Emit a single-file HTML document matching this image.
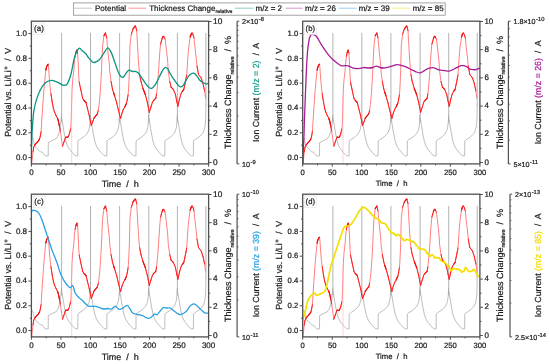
<!DOCTYPE html>
<html><head><meta charset="utf-8"><style>
html,body{margin:0;padding:0;background:#fff;}
svg{display:block;will-change:transform;}
text{font-family:"Liberation Sans", sans-serif;fill:#1c1c1c;white-space:pre;text-rendering:geometricPrecision;stroke:#1c1c1c;stroke-width:0.22px;}
.tk{font-size:8px;}
.rt{font-size:8.3px;}
.pb .tk,.pd .tk{font-size:7.7px;}
.pb .rt,.pd .rt{font-size:8.0px;}
.pb .tm,.pd .tm{font-size:7.7px;}
.itk{font-size:7.2px;}
.ttl{font-size:9px;}
.lg{font-size:8px;}
</style></head><body>
<svg width="550" height="364" viewBox="0 0 550 364" xmlns="http://www.w3.org/2000/svg">
<defs><clipPath id="clp"><rect x="31.4" y="21.2" width="177.2" height="142.70000000000002"/></clipPath></defs>
<g transform="translate(0,0)" class="pa">
<g clip-path="url(#clp)" fill="none" stroke-linejoin="round" stroke-linecap="round">
<path d="M32.6,137.5 L33.4,140.5 L34.1,143.6 L35.3,146.9 L37.4,148.5 L39.1,150.6 L40.3,151.8 L42.3,152.2 L43.6,153.9 L45.2,155.9 L48.2,156 L48.3,142.5 L50.4,141.6 L53.2,140 L55.7,139 L57.8,136.3 L59.3,132 L60.5,127 L61.3,118 L61.6,115 M61.6,118 L62.6,123 L64.2,133 L65.8,141 L67.4,145.8 L69.4,149.2 L72.4,152.8 L74.9,155.5 L76.1,155.9 L77.8,155.9 L77.9,141 L79.1,139.8 L80.5,139 L83.8,136.8 L87.1,133.5 L88.6,130.5 L89.5,127 L90.1,122 L90.35,116 L90.5,115 M90.5,118 L91.51,123 L93.12,133 L94.73,141 L96.34,145.8 L98.35,149.2 L101.37,152.8 L103.89,155.5 L105.1,155.9 L106.81,155.9 L106.91,141 L108.12,139.8 L109.53,139 L112.85,136.8 L116.18,133.5 L117.69,130.5 L118.59,127 L119.2,122 L119.45,116 L119.6,115 M119.6,118 L120.61,123 L122.23,133 L123.84,141 L125.46,145.8 L127.48,149.2 L130.51,152.8 L133.04,155.5 L134.25,155.9 L135.97,155.9 L136.07,141 L137.28,139.8 L138.7,139 L142.03,136.8 L145.36,133.5 L146.88,130.5 L147.79,127 L148.4,122 L148.65,116 L148.8,115 M148.8,118 L149.79,123 L151.37,133 L152.96,141 L154.54,145.8 L156.52,149.2 L159.49,152.8 L161.96,155.5 L163.15,155.9 L164.83,155.9 L164.93,141 L166.12,139.8 L167.5,139 L170.77,136.8 L174.04,133.5 L175.52,130.5 L176.41,127 L177,122 L177.25,116 L177.4,115 M177.4,118 L178.39,123 L179.96,133 L181.54,141 L183.12,145.8 L185.09,149.2 L188.05,152.8 L190.52,155.5 L191.7,155.9 L193.38,155.9 L193.47,141 L194.66,139.8 L196.04,139 L199.29,136.8 L202.55,133.5 L204.03,130.5 L204.91,127 L205.51,122 L205.75,116 L205.9,105" stroke="#a8a8a8" stroke-width="0.75"/>
<line x1="61.6" x2="61.6" y1="33.3" y2="122" stroke="#a0a0a0" stroke-width="0.8"/>
<line x1="90.5" x2="90.5" y1="33.3" y2="122" stroke="#a0a0a0" stroke-width="0.8"/>
<line x1="119.6" x2="119.6" y1="33.3" y2="122" stroke="#a0a0a0" stroke-width="0.8"/>
<line x1="148.8" x2="148.8" y1="33.3" y2="122" stroke="#a0a0a0" stroke-width="0.8"/>
<line x1="177.4" x2="177.4" y1="33.3" y2="122" stroke="#a0a0a0" stroke-width="0.8"/>
<line x1="205.9" x2="205.9" y1="33.3" y2="105" stroke="#a0a0a0" stroke-width="0.8"/>
<path d="M31.6,163.5 L32.1,160 L33,152 L33.7,147.3 L34.9,144.8 L36.6,142.8 L38.2,141.1 L39.5,139.1 L40.3,136.2 L41.1,131.6 L41.8,120 L42.6,108 L43.5,95 L44.3,85 L45.1,77 L45.8,70 L46.6,66.8 L47.5,65 L48.2,64.2 L48.7,68 L49.3,78 L50.1,87 L50.9,93.5 L52.2,102 L53.4,108.4 L54.5,112 L56,115.5 L57.5,118.3 L58.5,121.5 L59.4,126 L60.4,131 L61.2,137 L62.5,146.3 L63.9,142.2 L65.3,138.2 L65.9,137.2 L67.6,137.5 L68.5,136.2 L69.5,133.5 L70.5,129 L71,125 L71.5,108 L72,90.4 L72.7,80 L73.8,70.7 L74.4,62 L75.1,56.5 L76,52.2 L76.9,50.2 L77.6,53 L78.2,62 L78.7,75 L79.2,82 L80.7,89.3 L82.7,98.5 L84,100.5 L86,102.5 L87.3,107.8 L89.3,115.7 L90.5,122 L91.3,125.4 L93,121 L94,118.1 L95.7,116 L97.4,113.8 L98.3,110.4 L99.1,104.6 L99.8,97.9 L100.5,88 L101.1,78 L101.6,68 L102.1,56 L102.7,45.2 L104,35.5 L105.5,33.1 L106.7,37.9 L107.9,51.2 L109.4,65 L109.8,72 L110.5,77 L111,81.4 L112.4,88.6 L113.5,92.5 L114.6,95.7 L116.7,102.9 L118.4,110 L119.6,115 L120.6,118.4 L122,113.1 L123.5,109.2 L124.9,106.8 L126.4,103.5 L127.3,99.6 L128.1,94.8 L128.5,90 L129,80 L129.4,70 L129.7,57 L130,45.2 L131.3,34.3 L133.1,28.9 L135.1,26.2 L135.6,26.3 L136.7,30.7 L137.5,45.2 L138.5,62 L139.2,70 L139.6,74.5 L140.9,81.3 L143.1,88.8 L145.4,94.7 L147.3,102.2 L148.3,107 L149.3,112.3 L151,106.9 L152.5,102.1 L153.4,100.7 L155.8,98.3 L156.5,94 L157.2,88 L157.9,80 L158.5,72 L159,64 L159.8,52 L160.6,44 L161.3,41.5 L162.3,38 L163.2,36.4 L163.8,36.6 L165,39 L166,46 L166.9,54 L167.6,60 L168.3,71.4 L169.7,81.4 L171.1,87.1 L173.3,89.3 L175.4,94.3 L176.8,101.4 L177.9,106.2 L179.5,99 L181,93.8 L182.4,91.3 L183.8,89.4 L184.8,84.6 L185.8,79.8 L186.7,75 L187.3,66 L187.8,58 L188.7,47.6 L190.2,37 L191.2,34 L192,33 L193,34.5 L194,38 L195,47.6 L196.2,58 L197,66 L198.5,74.5 L201.2,78 L203,83.5 L204.6,91 L205.6,98" stroke="#ff6060" stroke-width="0.8"/>
<line x1="71.7" x2="71.7" y1="95.0" y2="163.5" stroke="#ffb0b0" stroke-width="0.55" stroke-dasharray="1.2 0.6"/>
<path d="M33,152 L33.7,147.3 M33.7,147.3 L34.9,144.8 M34.9,144.8 L36.6,142.8 M36.6,142.8 L38.2,141.1 M38.2,141.1 L39.5,139.1 M39.5,139.1 L40.3,136.2 M40.3,136.2 L41.1,131.6 M45.8,70 L46.6,66.8 M46.6,66.8 L47.5,65 M47.5,65 L48.2,64.2 M50.9,93.5 L52.2,102 M52.2,102 L53.4,108.4 M53.4,108.4 L54.5,112 M54.5,112 L56,115.5 M56,115.5 L57.5,118.3 M57.5,118.3 L58.5,121.5 M58.5,121.5 L59.4,126 M59.4,126 L60.4,131 M62.5,146.3 L63.9,142.2 M63.9,142.2 L65.3,138.2 M65.3,138.2 L65.9,137.2 M65.9,137.2 L67.6,137.5 M67.6,137.5 L68.5,136.2 M68.5,136.2 L69.5,133.5 M69.5,133.5 L70.5,129 M75.1,56.5 L76,52.2 M76,52.2 L76.9,50.2 M76.9,50.2 L77.6,53 M79.2,82 L80.7,89.3 M80.7,89.3 L82.7,98.5 M82.7,98.5 L84,100.5 M84,100.5 L86,102.5 M86,102.5 L87.3,107.8 M87.3,107.8 L89.3,115.7 M89.3,115.7 L90.5,122 M90.5,122 L91.3,125.4 M91.3,125.4 L93,121 M93,121 L94,118.1 M94,118.1 L95.7,116 M95.7,116 L97.4,113.8 M97.4,113.8 L98.3,110.4 M104,35.5 L105.5,33.1 M105.5,33.1 L106.7,37.9 M111,81.4 L112.4,88.6 M112.4,88.6 L113.5,92.5 M113.5,92.5 L114.6,95.7 M114.6,95.7 L116.7,102.9 M116.7,102.9 L118.4,110 M118.4,110 L119.6,115 M119.6,115 L120.6,118.4 M120.6,118.4 L122,113.1 M122,113.1 L123.5,109.2 M123.5,109.2 L124.9,106.8 M124.9,106.8 L126.4,103.5 M126.4,103.5 L127.3,99.6 M127.3,99.6 L128.1,94.8 M131.3,34.3 L133.1,28.9 M133.1,28.9 L135.1,26.2 M135.1,26.2 L135.6,26.3 M135.6,26.3 L136.7,30.7 M139.6,74.5 L140.9,81.3 M140.9,81.3 L143.1,88.8 M143.1,88.8 L145.4,94.7 M145.4,94.7 L147.3,102.2 M147.3,102.2 L148.3,107 M148.3,107 L149.3,112.3 M149.3,112.3 L151,106.9 M151,106.9 L152.5,102.1 M152.5,102.1 L153.4,100.7 M153.4,100.7 L155.8,98.3 M155.8,98.3 L156.5,94 M160.6,44 L161.3,41.5 M161.3,41.5 L162.3,38 M162.3,38 L163.2,36.4 M163.2,36.4 L163.8,36.6 M163.8,36.6 L165,39 M169.7,81.4 L171.1,87.1 M171.1,87.1 L173.3,89.3 M173.3,89.3 L175.4,94.3 M175.4,94.3 L176.8,101.4 M176.8,101.4 L177.9,106.2 M177.9,106.2 L179.5,99 M179.5,99 L181,93.8 M181,93.8 L182.4,91.3 M182.4,91.3 L183.8,89.4 M183.8,89.4 L184.8,84.6 M184.8,84.6 L185.8,79.8 M185.8,79.8 L186.7,75 M190.2,37 L191.2,34 M191.2,34 L192,33 M192,33 L193,34.5 M193,34.5 L194,38 M197,66 L198.5,74.5 M198.5,74.5 L201.2,78 M201.2,78 L203,83.5 M203,83.5 L204.6,91" stroke="#ff1c1c" stroke-width="0.95"/>
<path d="M34.9,144.8 L36.6,142.8 L38.2,141.1 L39.5,139.1" stroke="#f01010" stroke-width="1.2"/>
<path d="M45.8,70 L46.6,66.8 L47.5,65 L48.2,64.2" stroke="#f01010" stroke-width="1.2"/>
<path d="M76,52.2 L76.9,50.2" stroke="#f01010" stroke-width="1.2"/>
<path d="M104,35.5 L105.5,33.1" stroke="#f01010" stroke-width="1.2"/>
<path d="M133.1,28.9 L135.1,26.2 L135.6,26.3" stroke="#f01010" stroke-width="1.2"/>
<path d="M162.3,38 L163.2,36.4 L163.8,36.6" stroke="#f01010" stroke-width="1.2"/>
<path d="M190.2,37 L191.2,34 L192,33" stroke="#f01010" stroke-width="1.2"/>
<path d="M57.5,118.3 L58.5,121.5 L59.4,126" stroke="#f01010" stroke-width="1.2"/>
<path d="M65.9,137.2 L67.6,137.5 L68.5,136.2" stroke="#f01010" stroke-width="1.2"/>
<path d="M84,100.5 L86,102.5" stroke="#f01010" stroke-width="1.2"/>
<path d="M94,118.1 L95.7,116 L97.4,113.8" stroke="#f01010" stroke-width="1.2"/>
<path d="M113.5,92.5 L114.6,95.7" stroke="#f01010" stroke-width="1.2"/>
<path d="M124.9,106.8 L126.4,103.5" stroke="#f01010" stroke-width="1.2"/>
<path d="M143.1,88.8 L145.4,94.7" stroke="#f01010" stroke-width="1.2"/>
<path d="M153.4,100.7 L155.8,98.3" stroke="#f01010" stroke-width="1.2"/>
<path d="M171.1,87.1 L173.3,89.3" stroke="#f01010" stroke-width="1.2"/>
<path d="M182.4,91.3 L183.8,89.4" stroke="#f01010" stroke-width="1.2"/>
<path d="M31.3,152 C31.37,150.33 31.55,145.67 31.7,142 C31.85,138.33 31.87,135.03 32.2,130 C32.53,124.97 33.03,116.7 33.7,111.8 C34.37,106.9 35.17,104.12 36.2,100.6 C37.23,97.08 38.45,93.58 39.9,90.7 C41.35,87.82 43.05,85.03 44.9,83.3 C46.75,81.57 48.95,80.5 51,80.3 C53.05,80.1 55.13,81.27 57.2,82.1 C59.27,82.93 61.75,84.97 63.4,85.3 C65.05,85.63 65.87,85.87 67.1,84.1 C68.33,82.33 69.55,79.17 70.8,74.7 C72.05,70.23 73.27,61.68 74.6,57.3 C75.93,52.92 77.57,49.53 78.8,48.4 C80.03,47.27 80.83,49.62 82,50.5 C83.17,51.38 84.72,52.5 85.8,53.7 C86.88,54.9 87.47,56.4 88.5,57.7 C89.53,59 91.02,60.7 92,61.5 C92.98,62.3 93.18,62.78 94.4,62.5 C95.62,62.22 97.65,61.48 99.3,59.8 C100.95,58.12 102.85,54.38 104.3,52.4 C105.75,50.42 106.77,47.7 108,47.9 C109.23,48.1 110.62,51.33 111.7,53.6 C112.78,55.87 113.68,59.18 114.5,61.5 C115.32,63.82 116.02,65.83 116.6,67.5 C117.18,69.17 117.45,70.18 118,71.5 C118.55,72.82 119.33,74.48 119.9,75.4 C120.47,76.32 120.92,76.68 121.4,77 C121.88,77.32 122.32,77.47 122.8,77.3 C123.28,77.13 123.82,76.57 124.3,76 C124.78,75.43 125.18,74.65 125.7,73.9 C126.22,73.15 126.83,72.13 127.4,71.5 C127.97,70.87 128.58,70.25 129.1,70.1 C129.62,69.95 130.03,70.4 130.5,70.6 C130.97,70.8 131.38,71.15 131.9,71.3 C132.42,71.45 133.03,71.5 133.6,71.5 C134.17,71.5 134.77,71.22 135.3,71.3 C135.83,71.38 136.32,71.72 136.8,72 C137.28,72.28 137.48,72.2 138.2,73 C138.92,73.8 140.13,75.43 141.1,76.8 C142.07,78.17 143.05,79.8 144,81.2 C144.95,82.6 146,84.18 146.8,85.2 C147.6,86.22 148.15,86.77 148.8,87.3 C149.45,87.83 150.13,88.27 150.7,88.4 C151.27,88.53 151.72,88.35 152.2,88.1 C152.68,87.85 152.88,87.82 153.6,86.9 C154.32,85.98 155.55,84.28 156.5,82.6 C157.45,80.92 158.35,78.72 159.3,76.8 C160.25,74.88 161.47,72.4 162.2,71.1 C162.93,69.8 163.22,69.6 163.7,69 C164.18,68.4 164.63,67.72 165.1,67.5 C165.57,67.28 166.02,67.43 166.5,67.7 C166.98,67.97 167.48,68.3 168,69.1 C168.52,69.9 168.93,71.27 169.6,72.5 C170.27,73.73 171.2,75.22 172,76.5 C172.8,77.78 173.52,78.95 174.4,80.2 C175.28,81.45 176.33,82.88 177.3,84 C178.27,85.12 179.23,86.65 180.2,86.9 C181.17,87.15 182.22,86.42 183.1,85.5 C183.98,84.58 184.55,83 185.5,81.4 C186.45,79.8 187.8,77.18 188.8,75.9 C189.8,74.62 190.68,74.15 191.5,73.7 C192.32,73.25 192.87,72.92 193.7,73.2 C194.53,73.48 195.48,74.22 196.5,75.4 C197.52,76.58 198.7,79.12 199.8,80.3 C200.9,81.48 202.2,81.95 203.1,82.5 C204,83.05 204.53,83.35 205.2,83.6 C205.87,83.85 206.52,84.17 207.1,84 C207.68,83.83 208.43,82.83 208.7,82.6" stroke="#0a9580" stroke-width="1.3"/>
</g>
<rect x="31.4" y="21.2" width="177.2" height="142.7" fill="none" stroke="#505050" stroke-width="1.3"/>
<line x1="28.4" x2="31.4" y1="157.6" y2="157.6" stroke="#505050" stroke-width="1"/>
<text x="27" y="159.75" text-anchor="end" class="tk">0.0</text>
<line x1="29.8" x2="31.4" y1="145.2" y2="145.2" stroke="#505050" stroke-width="1"/>
<line x1="28.4" x2="31.4" y1="132.8" y2="132.8" stroke="#505050" stroke-width="1"/>
<text x="27" y="134.95" text-anchor="end" class="tk">0.2</text>
<line x1="29.8" x2="31.4" y1="120.4" y2="120.4" stroke="#505050" stroke-width="1"/>
<line x1="28.4" x2="31.4" y1="108" y2="108" stroke="#505050" stroke-width="1"/>
<text x="27" y="110.15" text-anchor="end" class="tk">0.4</text>
<line x1="29.8" x2="31.4" y1="95.6" y2="95.6" stroke="#505050" stroke-width="1"/>
<line x1="28.4" x2="31.4" y1="83.2" y2="83.2" stroke="#505050" stroke-width="1"/>
<text x="27" y="85.35" text-anchor="end" class="tk">0.6</text>
<line x1="29.8" x2="31.4" y1="70.8" y2="70.8" stroke="#505050" stroke-width="1"/>
<line x1="28.4" x2="31.4" y1="58.4" y2="58.4" stroke="#505050" stroke-width="1"/>
<text x="27" y="60.55" text-anchor="end" class="tk">0.8</text>
<line x1="29.8" x2="31.4" y1="46" y2="46" stroke="#505050" stroke-width="1"/>
<line x1="28.4" x2="31.4" y1="33.6" y2="33.6" stroke="#505050" stroke-width="1"/>
<text x="27" y="35.75" text-anchor="end" class="tk">1.0</text>
<line x1="31.4" x2="31.4" y1="163.9" y2="166.7" stroke="#505050" stroke-width="1"/>
<text x="31.4" y="175.0" text-anchor="middle" class="tk">0</text>
<line x1="46.17" x2="46.17" y1="163.9" y2="165.4" stroke="#505050" stroke-width="1"/>
<line x1="60.93" x2="60.93" y1="163.9" y2="166.7" stroke="#505050" stroke-width="1"/>
<text x="60.93" y="175.0" text-anchor="middle" class="tk">50</text>
<line x1="75.7" x2="75.7" y1="163.9" y2="165.4" stroke="#505050" stroke-width="1"/>
<line x1="90.47" x2="90.47" y1="163.9" y2="166.7" stroke="#505050" stroke-width="1"/>
<text x="90.47" y="175.0" text-anchor="middle" class="tk">100</text>
<line x1="105.23" x2="105.23" y1="163.9" y2="165.4" stroke="#505050" stroke-width="1"/>
<line x1="120" x2="120" y1="163.9" y2="166.7" stroke="#505050" stroke-width="1"/>
<text x="120" y="175.0" text-anchor="middle" class="tk">150</text>
<line x1="134.77" x2="134.77" y1="163.9" y2="165.4" stroke="#505050" stroke-width="1"/>
<line x1="149.53" x2="149.53" y1="163.9" y2="166.7" stroke="#505050" stroke-width="1"/>
<text x="149.53" y="175.0" text-anchor="middle" class="tk">200</text>
<line x1="164.3" x2="164.3" y1="163.9" y2="165.4" stroke="#505050" stroke-width="1"/>
<line x1="179.07" x2="179.07" y1="163.9" y2="166.7" stroke="#505050" stroke-width="1"/>
<text x="179.07" y="175.0" text-anchor="middle" class="tk">250</text>
<line x1="193.83" x2="193.83" y1="163.9" y2="165.4" stroke="#505050" stroke-width="1"/>
<line x1="208.6" x2="208.6" y1="163.9" y2="166.7" stroke="#505050" stroke-width="1"/>
<text x="208.6" y="175.0" text-anchor="middle" class="tk">300</text>
<line x1="208.6" x2="211.6" y1="162.5" y2="162.5" stroke="#505050" stroke-width="1"/>
<text x="213.1" y="164.5" class="tk rt">0</text>
<line x1="208.6" x2="210.2" y1="148.4" y2="148.4" stroke="#505050" stroke-width="1"/>
<line x1="208.6" x2="211.6" y1="134.3" y2="134.3" stroke="#505050" stroke-width="1"/>
<text x="213.1" y="136.3" class="tk rt">2</text>
<line x1="208.6" x2="210.2" y1="120.2" y2="120.2" stroke="#505050" stroke-width="1"/>
<line x1="208.6" x2="211.6" y1="106.1" y2="106.1" stroke="#505050" stroke-width="1"/>
<text x="213.1" y="108.1" class="tk rt">4</text>
<line x1="208.6" x2="210.2" y1="92" y2="92" stroke="#505050" stroke-width="1"/>
<line x1="208.6" x2="211.6" y1="77.9" y2="77.9" stroke="#505050" stroke-width="1"/>
<text x="213.1" y="79.9" class="tk rt">6</text>
<line x1="208.6" x2="210.2" y1="63.8" y2="63.8" stroke="#505050" stroke-width="1"/>
<line x1="208.6" x2="211.6" y1="49.7" y2="49.7" stroke="#505050" stroke-width="1"/>
<text x="213.1" y="51.7" class="tk rt">8</text>
<line x1="208.6" x2="210.2" y1="35.6" y2="35.6" stroke="#505050" stroke-width="1"/>
<line x1="208.6" x2="211.6" y1="21.5" y2="21.5" stroke="#505050" stroke-width="1"/>
<text x="213.1" y="23.5" class="tk rt">10</text>
<line x1="237.1" x2="237.1" y1="21.2" y2="163.9" stroke="#505050" stroke-width="1.2"/>
<line x1="237.1" x2="239.29999999999998" y1="21.2" y2="21.2" stroke="#505050" stroke-width="1"/>
<line x1="237.1" x2="239.29999999999998" y1="163.9" y2="163.9" stroke="#505050" stroke-width="1"/>
<line x1="237.1" x2="238.5" y1="116.11" y2="116.11" stroke="#505050" stroke-width="0.9"/>
<line x1="237.1" x2="238.5" y1="92.74" y2="92.74" stroke="#505050" stroke-width="0.9"/>
<line x1="237.1" x2="238.5" y1="77.13" y2="77.13" stroke="#505050" stroke-width="0.9"/>
<line x1="237.1" x2="238.5" y1="65.39" y2="65.39" stroke="#505050" stroke-width="0.9"/>
<line x1="237.1" x2="238.5" y1="55.98" y2="55.98" stroke="#505050" stroke-width="0.9"/>
<line x1="237.1" x2="238.5" y1="48.13" y2="48.13" stroke="#505050" stroke-width="0.9"/>
<line x1="237.1" x2="238.5" y1="41.39" y2="41.39" stroke="#505050" stroke-width="0.9"/>
<line x1="237.1" x2="238.5" y1="35.48" y2="35.48" stroke="#505050" stroke-width="0.9"/>
<line x1="237.1" x2="238.5" y1="30.23" y2="30.23" stroke="#505050" stroke-width="0.9"/>
<line x1="237.1" x2="238.5" y1="25.5" y2="25.5" stroke="#505050" stroke-width="0.9"/>
<text x="242.1" y="23.9" class="itk">2×10<tspan dx="0.5" dy="-2.7" font-size="5.8">-8</tspan></text>
<text x="242.1" y="166.8" class="itk">10<tspan dx="0.5" dy="-2.7" font-size="5.8">-9</tspan></text>
<text transform="translate(10.9,92.3) rotate(-90)" text-anchor="middle" class="ttl" style="font-size:8.8px">Potential vs. Li/Li<tspan dx="0.5" dy="-3.3" font-size="6.2">+</tspan><tspan dx="0.3" dy="3.3">  /  V</tspan></text>
<text transform="translate(231.4,92.5) rotate(-90)" text-anchor="middle" class="ttl">Thickness Change<tspan dy="2.2" font-size="5.6">relative</tspan><tspan dy="-2.2">  /  %</tspan></text>
<text transform="translate(259.4,92.4) rotate(-90)" text-anchor="middle" class="ttl" style="font-size:8.8px">Ion Current <tspan fill="#109a88" stroke="#109a88">(m/z = 2)</tspan>  /  A</text>
<text x="120.3" y="186.9" text-anchor="middle" class="ttl tm">Time  /  h</text>
<rect x="33.2" y="23" width="11.7" height="11.4" fill="#fff" stroke="#e4e4e4" stroke-width="0.6"/>
<text x="39" y="31.3" text-anchor="middle" class="tk">(a)</text>
</g><g transform="translate(271.3,0)" class="pb">
<g clip-path="url(#clp)" fill="none" stroke-linejoin="round" stroke-linecap="round">
<path d="M32.6,137.5 L33.4,140.5 L34.1,143.6 L35.3,146.9 L37.4,148.5 L39.1,150.6 L40.3,151.8 L42.3,152.2 L43.6,153.9 L45.2,155.9 L48.2,156 L48.3,142.5 L50.4,141.6 L53.2,140 L55.7,139 L57.8,136.3 L59.3,132 L60.5,127 L61.3,118 L61.6,115 M61.6,118 L62.6,123 L64.2,133 L65.8,141 L67.4,145.8 L69.4,149.2 L72.4,152.8 L74.9,155.5 L76.1,155.9 L77.8,155.9 L77.9,141 L79.1,139.8 L80.5,139 L83.8,136.8 L87.1,133.5 L88.6,130.5 L89.5,127 L90.1,122 L90.35,116 L90.5,115 M90.5,118 L91.51,123 L93.12,133 L94.73,141 L96.34,145.8 L98.35,149.2 L101.37,152.8 L103.89,155.5 L105.1,155.9 L106.81,155.9 L106.91,141 L108.12,139.8 L109.53,139 L112.85,136.8 L116.18,133.5 L117.69,130.5 L118.59,127 L119.2,122 L119.45,116 L119.6,115 M119.6,118 L120.61,123 L122.23,133 L123.84,141 L125.46,145.8 L127.48,149.2 L130.51,152.8 L133.04,155.5 L134.25,155.9 L135.97,155.9 L136.07,141 L137.28,139.8 L138.7,139 L142.03,136.8 L145.36,133.5 L146.88,130.5 L147.79,127 L148.4,122 L148.65,116 L148.8,115 M148.8,118 L149.79,123 L151.37,133 L152.96,141 L154.54,145.8 L156.52,149.2 L159.49,152.8 L161.96,155.5 L163.15,155.9 L164.83,155.9 L164.93,141 L166.12,139.8 L167.5,139 L170.77,136.8 L174.04,133.5 L175.52,130.5 L176.41,127 L177,122 L177.25,116 L177.4,115 M177.4,118 L178.39,123 L179.96,133 L181.54,141 L183.12,145.8 L185.09,149.2 L188.05,152.8 L190.52,155.5 L191.7,155.9 L193.38,155.9 L193.47,141 L194.66,139.8 L196.04,139 L199.29,136.8 L202.55,133.5 L204.03,130.5 L204.91,127 L205.51,122 L205.75,116 L205.9,105" stroke="#a8a8a8" stroke-width="0.75"/>
<line x1="61.6" x2="61.6" y1="33.3" y2="122" stroke="#a0a0a0" stroke-width="0.8"/>
<line x1="90.5" x2="90.5" y1="33.3" y2="122" stroke="#a0a0a0" stroke-width="0.8"/>
<line x1="119.6" x2="119.6" y1="33.3" y2="122" stroke="#a0a0a0" stroke-width="0.8"/>
<line x1="148.8" x2="148.8" y1="33.3" y2="122" stroke="#a0a0a0" stroke-width="0.8"/>
<line x1="177.4" x2="177.4" y1="33.3" y2="122" stroke="#a0a0a0" stroke-width="0.8"/>
<line x1="205.9" x2="205.9" y1="33.3" y2="105" stroke="#a0a0a0" stroke-width="0.8"/>
<path d="M31.6,163.5 L32.1,160 L33,152 L33.7,147.3 L34.9,144.8 L36.6,142.8 L38.2,141.1 L39.5,139.1 L40.3,136.2 L41.1,131.6 L41.8,120 L42.6,108 L43.5,95 L44.3,85 L45.1,77 L45.8,70 L46.6,66.8 L47.5,65 L48.2,64.2 L48.7,68 L49.3,78 L50.1,87 L50.9,93.5 L52.2,102 L53.4,108.4 L54.5,112 L56,115.5 L57.5,118.3 L58.5,121.5 L59.4,126 L60.4,131 L61.2,137 L62.5,146.3 L63.9,142.2 L65.3,138.2 L65.9,137.2 L67.6,137.5 L68.5,136.2 L69.5,133.5 L70.5,129 L71,125 L71.5,108 L72,90.4 L72.7,80 L73.8,70.7 L74.4,62 L75.1,56.5 L76,52.2 L76.9,50.2 L77.6,53 L78.2,62 L78.7,75 L79.2,82 L80.7,89.3 L82.7,98.5 L84,100.5 L86,102.5 L87.3,107.8 L89.3,115.7 L90.5,122 L91.3,125.4 L93,121 L94,118.1 L95.7,116 L97.4,113.8 L98.3,110.4 L99.1,104.6 L99.8,97.9 L100.5,88 L101.1,78 L101.6,68 L102.1,56 L102.7,45.2 L104,35.5 L105.5,33.1 L106.7,37.9 L107.9,51.2 L109.4,65 L109.8,72 L110.5,77 L111,81.4 L112.4,88.6 L113.5,92.5 L114.6,95.7 L116.7,102.9 L118.4,110 L119.6,115 L120.6,118.4 L122,113.1 L123.5,109.2 L124.9,106.8 L126.4,103.5 L127.3,99.6 L128.1,94.8 L128.5,90 L129,80 L129.4,70 L129.7,57 L130,45.2 L131.3,34.3 L133.1,28.9 L135.1,26.2 L135.6,26.3 L136.7,30.7 L137.5,45.2 L138.5,62 L139.2,70 L139.6,74.5 L140.9,81.3 L143.1,88.8 L145.4,94.7 L147.3,102.2 L148.3,107 L149.3,112.3 L151,106.9 L152.5,102.1 L153.4,100.7 L155.8,98.3 L156.5,94 L157.2,88 L157.9,80 L158.5,72 L159,64 L159.8,52 L160.6,44 L161.3,41.5 L162.3,38 L163.2,36.4 L163.8,36.6 L165,39 L166,46 L166.9,54 L167.6,60 L168.3,71.4 L169.7,81.4 L171.1,87.1 L173.3,89.3 L175.4,94.3 L176.8,101.4 L177.9,106.2 L179.5,99 L181,93.8 L182.4,91.3 L183.8,89.4 L184.8,84.6 L185.8,79.8 L186.7,75 L187.3,66 L187.8,58 L188.7,47.6 L190.2,37 L191.2,34 L192,33 L193,34.5 L194,38 L195,47.6 L196.2,58 L197,66 L198.5,74.5 L201.2,78 L203,83.5 L204.6,91 L205.6,98" stroke="#ff6060" stroke-width="0.8"/>
<line x1="71.7" x2="71.7" y1="95.0" y2="163.5" stroke="#ffb0b0" stroke-width="0.55" stroke-dasharray="1.2 0.6"/>
<path d="M33,152 L33.7,147.3 M33.7,147.3 L34.9,144.8 M34.9,144.8 L36.6,142.8 M36.6,142.8 L38.2,141.1 M38.2,141.1 L39.5,139.1 M39.5,139.1 L40.3,136.2 M40.3,136.2 L41.1,131.6 M45.8,70 L46.6,66.8 M46.6,66.8 L47.5,65 M47.5,65 L48.2,64.2 M50.9,93.5 L52.2,102 M52.2,102 L53.4,108.4 M53.4,108.4 L54.5,112 M54.5,112 L56,115.5 M56,115.5 L57.5,118.3 M57.5,118.3 L58.5,121.5 M58.5,121.5 L59.4,126 M59.4,126 L60.4,131 M62.5,146.3 L63.9,142.2 M63.9,142.2 L65.3,138.2 M65.3,138.2 L65.9,137.2 M65.9,137.2 L67.6,137.5 M67.6,137.5 L68.5,136.2 M68.5,136.2 L69.5,133.5 M69.5,133.5 L70.5,129 M75.1,56.5 L76,52.2 M76,52.2 L76.9,50.2 M76.9,50.2 L77.6,53 M79.2,82 L80.7,89.3 M80.7,89.3 L82.7,98.5 M82.7,98.5 L84,100.5 M84,100.5 L86,102.5 M86,102.5 L87.3,107.8 M87.3,107.8 L89.3,115.7 M89.3,115.7 L90.5,122 M90.5,122 L91.3,125.4 M91.3,125.4 L93,121 M93,121 L94,118.1 M94,118.1 L95.7,116 M95.7,116 L97.4,113.8 M97.4,113.8 L98.3,110.4 M104,35.5 L105.5,33.1 M105.5,33.1 L106.7,37.9 M111,81.4 L112.4,88.6 M112.4,88.6 L113.5,92.5 M113.5,92.5 L114.6,95.7 M114.6,95.7 L116.7,102.9 M116.7,102.9 L118.4,110 M118.4,110 L119.6,115 M119.6,115 L120.6,118.4 M120.6,118.4 L122,113.1 M122,113.1 L123.5,109.2 M123.5,109.2 L124.9,106.8 M124.9,106.8 L126.4,103.5 M126.4,103.5 L127.3,99.6 M127.3,99.6 L128.1,94.8 M131.3,34.3 L133.1,28.9 M133.1,28.9 L135.1,26.2 M135.1,26.2 L135.6,26.3 M135.6,26.3 L136.7,30.7 M139.6,74.5 L140.9,81.3 M140.9,81.3 L143.1,88.8 M143.1,88.8 L145.4,94.7 M145.4,94.7 L147.3,102.2 M147.3,102.2 L148.3,107 M148.3,107 L149.3,112.3 M149.3,112.3 L151,106.9 M151,106.9 L152.5,102.1 M152.5,102.1 L153.4,100.7 M153.4,100.7 L155.8,98.3 M155.8,98.3 L156.5,94 M160.6,44 L161.3,41.5 M161.3,41.5 L162.3,38 M162.3,38 L163.2,36.4 M163.2,36.4 L163.8,36.6 M163.8,36.6 L165,39 M169.7,81.4 L171.1,87.1 M171.1,87.1 L173.3,89.3 M173.3,89.3 L175.4,94.3 M175.4,94.3 L176.8,101.4 M176.8,101.4 L177.9,106.2 M177.9,106.2 L179.5,99 M179.5,99 L181,93.8 M181,93.8 L182.4,91.3 M182.4,91.3 L183.8,89.4 M183.8,89.4 L184.8,84.6 M184.8,84.6 L185.8,79.8 M185.8,79.8 L186.7,75 M190.2,37 L191.2,34 M191.2,34 L192,33 M192,33 L193,34.5 M193,34.5 L194,38 M197,66 L198.5,74.5 M198.5,74.5 L201.2,78 M201.2,78 L203,83.5 M203,83.5 L204.6,91" stroke="#ff1c1c" stroke-width="0.95"/>
<path d="M34.9,144.8 L36.6,142.8 L38.2,141.1 L39.5,139.1" stroke="#f01010" stroke-width="1.2"/>
<path d="M45.8,70 L46.6,66.8 L47.5,65 L48.2,64.2" stroke="#f01010" stroke-width="1.2"/>
<path d="M76,52.2 L76.9,50.2" stroke="#f01010" stroke-width="1.2"/>
<path d="M104,35.5 L105.5,33.1" stroke="#f01010" stroke-width="1.2"/>
<path d="M133.1,28.9 L135.1,26.2 L135.6,26.3" stroke="#f01010" stroke-width="1.2"/>
<path d="M162.3,38 L163.2,36.4 L163.8,36.6" stroke="#f01010" stroke-width="1.2"/>
<path d="M190.2,37 L191.2,34 L192,33" stroke="#f01010" stroke-width="1.2"/>
<path d="M57.5,118.3 L58.5,121.5 L59.4,126" stroke="#f01010" stroke-width="1.2"/>
<path d="M65.9,137.2 L67.6,137.5 L68.5,136.2" stroke="#f01010" stroke-width="1.2"/>
<path d="M84,100.5 L86,102.5" stroke="#f01010" stroke-width="1.2"/>
<path d="M94,118.1 L95.7,116 L97.4,113.8" stroke="#f01010" stroke-width="1.2"/>
<path d="M113.5,92.5 L114.6,95.7" stroke="#f01010" stroke-width="1.2"/>
<path d="M124.9,106.8 L126.4,103.5" stroke="#f01010" stroke-width="1.2"/>
<path d="M143.1,88.8 L145.4,94.7" stroke="#f01010" stroke-width="1.2"/>
<path d="M153.4,100.7 L155.8,98.3" stroke="#f01010" stroke-width="1.2"/>
<path d="M171.1,87.1 L173.3,89.3" stroke="#f01010" stroke-width="1.2"/>
<path d="M182.4,91.3 L183.8,89.4" stroke="#f01010" stroke-width="1.2"/>
<path d="M31.6,163.5 C31.67,161.25 31.82,154.75 32,150 C32.18,145.25 32.52,140 32.7,135 C32.88,130 32.9,125.83 33.1,120 C33.3,114.17 33.6,107.5 33.9,100 C34.2,92.5 34.53,82.83 34.9,75 C35.27,67.17 35.62,58.87 36.1,53 C36.58,47.13 37.27,42.72 37.8,39.8 C38.33,36.88 38.75,36.47 39.3,35.5 C39.85,34.53 40.12,33.83 41.1,34 C42.08,34.17 43.7,34.72 45.2,36.5 C46.7,38.28 48.45,42.1 50.1,44.7 C51.75,47.3 53.67,50.12 55.1,52.1 C56.53,54.08 57.62,55.37 58.7,56.6 C59.78,57.83 60.38,58.4 61.6,59.5 C62.82,60.6 64.55,62.15 66,63.2 C67.45,64.25 69.1,65.38 70.3,65.8 C71.5,66.22 72.1,65.7 73.2,65.7 C74.3,65.7 75.68,65.5 76.9,65.8 C78.12,66.1 79.17,67.02 80.5,67.5 C81.83,67.98 83.45,68.57 84.9,68.7 C86.35,68.83 87.87,68.5 89.2,68.3 C90.53,68.1 91.57,67.55 92.9,67.5 C94.23,67.45 95.75,68 97.2,68 C98.65,68 100.27,67.82 101.6,67.5 C102.93,67.18 103.98,66.1 105.2,66.1 C106.42,66.1 107.68,67.18 108.9,67.5 C110.12,67.82 111.17,68.07 112.5,68 C113.83,67.93 115.57,67.42 116.9,67.1 C118.23,66.78 119.05,66.52 120.5,66.1 C121.95,65.68 124.02,64.73 125.6,64.6 C127.18,64.47 128.48,64.92 130,65.3 C131.52,65.68 132.93,66.13 134.7,66.9 C136.47,67.67 138.93,69.08 140.6,69.9 C142.27,70.72 143.33,71.3 144.7,71.8 C146.07,72.3 147.63,72.95 148.8,72.9 C149.97,72.85 150.7,72.07 151.7,71.5 C152.7,70.93 153.72,70.05 154.8,69.5 C155.88,68.95 157.08,68.5 158.2,68.2 C159.32,67.9 160.42,67.63 161.5,67.7 C162.58,67.77 163.7,68.23 164.7,68.6 C165.7,68.97 166.03,69.55 167.5,69.9 C168.97,70.25 171.75,70.5 173.5,70.7 C175.25,70.9 176.75,71.23 178,71.1 C179.25,70.97 180.02,70.35 181,69.9 C181.98,69.45 182.92,68.92 183.9,68.4 C184.88,67.88 185.9,67.25 186.9,66.8 C187.9,66.35 189.02,65.9 189.9,65.7 C190.78,65.5 191.45,65.52 192.2,65.6 C192.95,65.68 193.65,65.85 194.4,66.2 C195.15,66.55 195.97,67.2 196.7,67.7 C197.43,68.2 197.97,68.87 198.8,69.2 C199.63,69.53 200.7,69.63 201.7,69.7 C202.7,69.77 203.63,69.87 204.8,69.6 C205.97,69.33 208.05,68.35 208.7,68.1" stroke="#a81c96" stroke-width="1.3"/>
</g>
<rect x="31.4" y="21.2" width="177.2" height="142.7" fill="none" stroke="#505050" stroke-width="1.3"/>
<line x1="28.4" x2="31.4" y1="157.6" y2="157.6" stroke="#505050" stroke-width="1"/>
<text x="27" y="159.75" text-anchor="end" class="tk">0.0</text>
<line x1="29.8" x2="31.4" y1="145.2" y2="145.2" stroke="#505050" stroke-width="1"/>
<line x1="28.4" x2="31.4" y1="132.8" y2="132.8" stroke="#505050" stroke-width="1"/>
<text x="27" y="134.95" text-anchor="end" class="tk">0.2</text>
<line x1="29.8" x2="31.4" y1="120.4" y2="120.4" stroke="#505050" stroke-width="1"/>
<line x1="28.4" x2="31.4" y1="108" y2="108" stroke="#505050" stroke-width="1"/>
<text x="27" y="110.15" text-anchor="end" class="tk">0.4</text>
<line x1="29.8" x2="31.4" y1="95.6" y2="95.6" stroke="#505050" stroke-width="1"/>
<line x1="28.4" x2="31.4" y1="83.2" y2="83.2" stroke="#505050" stroke-width="1"/>
<text x="27" y="85.35" text-anchor="end" class="tk">0.6</text>
<line x1="29.8" x2="31.4" y1="70.8" y2="70.8" stroke="#505050" stroke-width="1"/>
<line x1="28.4" x2="31.4" y1="58.4" y2="58.4" stroke="#505050" stroke-width="1"/>
<text x="27" y="60.55" text-anchor="end" class="tk">0.8</text>
<line x1="29.8" x2="31.4" y1="46" y2="46" stroke="#505050" stroke-width="1"/>
<line x1="28.4" x2="31.4" y1="33.6" y2="33.6" stroke="#505050" stroke-width="1"/>
<text x="27" y="35.75" text-anchor="end" class="tk">1.0</text>
<line x1="31.4" x2="31.4" y1="163.9" y2="166.7" stroke="#505050" stroke-width="1"/>
<text x="31.4" y="175.0" text-anchor="middle" class="tk">0</text>
<line x1="46.17" x2="46.17" y1="163.9" y2="165.4" stroke="#505050" stroke-width="1"/>
<line x1="60.93" x2="60.93" y1="163.9" y2="166.7" stroke="#505050" stroke-width="1"/>
<text x="60.93" y="175.0" text-anchor="middle" class="tk">50</text>
<line x1="75.7" x2="75.7" y1="163.9" y2="165.4" stroke="#505050" stroke-width="1"/>
<line x1="90.47" x2="90.47" y1="163.9" y2="166.7" stroke="#505050" stroke-width="1"/>
<text x="90.47" y="175.0" text-anchor="middle" class="tk">100</text>
<line x1="105.23" x2="105.23" y1="163.9" y2="165.4" stroke="#505050" stroke-width="1"/>
<line x1="120" x2="120" y1="163.9" y2="166.7" stroke="#505050" stroke-width="1"/>
<text x="120" y="175.0" text-anchor="middle" class="tk">150</text>
<line x1="134.77" x2="134.77" y1="163.9" y2="165.4" stroke="#505050" stroke-width="1"/>
<line x1="149.53" x2="149.53" y1="163.9" y2="166.7" stroke="#505050" stroke-width="1"/>
<text x="149.53" y="175.0" text-anchor="middle" class="tk">200</text>
<line x1="164.3" x2="164.3" y1="163.9" y2="165.4" stroke="#505050" stroke-width="1"/>
<line x1="179.07" x2="179.07" y1="163.9" y2="166.7" stroke="#505050" stroke-width="1"/>
<text x="179.07" y="175.0" text-anchor="middle" class="tk">250</text>
<line x1="193.83" x2="193.83" y1="163.9" y2="165.4" stroke="#505050" stroke-width="1"/>
<line x1="208.6" x2="208.6" y1="163.9" y2="166.7" stroke="#505050" stroke-width="1"/>
<text x="208.6" y="175.0" text-anchor="middle" class="tk">300</text>
<line x1="208.6" x2="211.6" y1="162.5" y2="162.5" stroke="#505050" stroke-width="1"/>
<text x="213.1" y="164.5" class="tk rt">0</text>
<line x1="208.6" x2="210.2" y1="148.4" y2="148.4" stroke="#505050" stroke-width="1"/>
<line x1="208.6" x2="211.6" y1="134.3" y2="134.3" stroke="#505050" stroke-width="1"/>
<text x="213.1" y="136.3" class="tk rt">2</text>
<line x1="208.6" x2="210.2" y1="120.2" y2="120.2" stroke="#505050" stroke-width="1"/>
<line x1="208.6" x2="211.6" y1="106.1" y2="106.1" stroke="#505050" stroke-width="1"/>
<text x="213.1" y="108.1" class="tk rt">4</text>
<line x1="208.6" x2="210.2" y1="92" y2="92" stroke="#505050" stroke-width="1"/>
<line x1="208.6" x2="211.6" y1="77.9" y2="77.9" stroke="#505050" stroke-width="1"/>
<text x="213.1" y="79.9" class="tk rt">6</text>
<line x1="208.6" x2="210.2" y1="63.8" y2="63.8" stroke="#505050" stroke-width="1"/>
<line x1="208.6" x2="211.6" y1="49.7" y2="49.7" stroke="#505050" stroke-width="1"/>
<text x="213.1" y="51.7" class="tk rt">8</text>
<line x1="208.6" x2="210.2" y1="35.6" y2="35.6" stroke="#505050" stroke-width="1"/>
<line x1="208.6" x2="211.6" y1="21.5" y2="21.5" stroke="#505050" stroke-width="1"/>
<text x="213.1" y="23.5" class="tk rt">10</text>
<line x1="237.1" x2="237.1" y1="21.2" y2="163.9" stroke="#505050" stroke-width="1.2"/>
<line x1="237.1" x2="239.29999999999998" y1="21.2" y2="21.2" stroke="#505050" stroke-width="1"/>
<line x1="237.1" x2="239.29999999999998" y1="163.9" y2="163.9" stroke="#505050" stroke-width="1"/>
<line x1="237.1" x2="238.5" y1="140.26" y2="140.26" stroke="#505050" stroke-width="0.9"/>
<line x1="237.1" x2="238.5" y1="120.77" y2="120.77" stroke="#505050" stroke-width="0.9"/>
<line x1="237.1" x2="238.5" y1="104.19" y2="104.19" stroke="#505050" stroke-width="0.9"/>
<line x1="237.1" x2="238.5" y1="89.76" y2="89.76" stroke="#505050" stroke-width="0.9"/>
<line x1="237.1" x2="238.5" y1="76.99" y2="76.99" stroke="#505050" stroke-width="0.9"/>
<line x1="237.1" x2="238.5" y1="65.53" y2="65.53" stroke="#505050" stroke-width="0.9"/>
<line x1="237.1" x2="238.5" y1="55.14" y2="55.14" stroke="#505050" stroke-width="0.9"/>
<line x1="237.1" x2="238.5" y1="45.64" y2="45.64" stroke="#505050" stroke-width="0.9"/>
<line x1="237.1" x2="238.5" y1="36.88" y2="36.88" stroke="#505050" stroke-width="0.9"/>
<line x1="237.1" x2="238.5" y1="28.77" y2="28.77" stroke="#505050" stroke-width="0.9"/>
<text x="242.1" y="23.9" class="itk">1.8×10<tspan dx="0.5" dy="-2.7" font-size="5.8">-10</tspan></text>
<text x="242.1" y="166.8" class="itk">5×10<tspan dx="0.5" dy="-2.7" font-size="5.8">-11</tspan></text>
<text transform="translate(10.9,92.3) rotate(-90)" text-anchor="middle" class="ttl" style="font-size:8.8px">Potential vs. Li/Li<tspan dx="0.5" dy="-3.3" font-size="6.2">+</tspan><tspan dx="0.3" dy="3.3">  /  V</tspan></text>
<text transform="translate(231.4,92.5) rotate(-90)" text-anchor="middle" class="ttl">Thickness Change<tspan dy="2.2" font-size="5.6">relative</tspan><tspan dy="-2.2">  /  %</tspan></text>
<text transform="translate(269.2,92.4) rotate(-90)" text-anchor="middle" class="ttl" style="font-size:8.8px">Ion Current <tspan fill="#a8199a" stroke="#a8199a">(m/z = 26)</tspan>  /  A</text>
<text x="120.3" y="186.1" text-anchor="middle" class="ttl tm">Time  /  h</text>
<rect x="33.2" y="23" width="11.7" height="11.4" fill="#fff" stroke="#e4e4e4" stroke-width="0.6"/>
<text x="39" y="31.3" text-anchor="middle" class="tk">(b)</text>
</g><g transform="translate(0,173)" class="pc">
<g clip-path="url(#clp)" fill="none" stroke-linejoin="round" stroke-linecap="round">
<path d="M32.6,137.5 L33.4,140.5 L34.1,143.6 L35.3,146.9 L37.4,148.5 L39.1,150.6 L40.3,151.8 L42.3,152.2 L43.6,153.9 L45.2,155.9 L48.2,156 L48.3,142.5 L50.4,141.6 L53.2,140 L55.7,139 L57.8,136.3 L59.3,132 L60.5,127 L61.3,118 L61.6,115 M61.6,118 L62.6,123 L64.2,133 L65.8,141 L67.4,145.8 L69.4,149.2 L72.4,152.8 L74.9,155.5 L76.1,155.9 L77.8,155.9 L77.9,141 L79.1,139.8 L80.5,139 L83.8,136.8 L87.1,133.5 L88.6,130.5 L89.5,127 L90.1,122 L90.35,116 L90.5,115 M90.5,118 L91.51,123 L93.12,133 L94.73,141 L96.34,145.8 L98.35,149.2 L101.37,152.8 L103.89,155.5 L105.1,155.9 L106.81,155.9 L106.91,141 L108.12,139.8 L109.53,139 L112.85,136.8 L116.18,133.5 L117.69,130.5 L118.59,127 L119.2,122 L119.45,116 L119.6,115 M119.6,118 L120.61,123 L122.23,133 L123.84,141 L125.46,145.8 L127.48,149.2 L130.51,152.8 L133.04,155.5 L134.25,155.9 L135.97,155.9 L136.07,141 L137.28,139.8 L138.7,139 L142.03,136.8 L145.36,133.5 L146.88,130.5 L147.79,127 L148.4,122 L148.65,116 L148.8,115 M148.8,118 L149.79,123 L151.37,133 L152.96,141 L154.54,145.8 L156.52,149.2 L159.49,152.8 L161.96,155.5 L163.15,155.9 L164.83,155.9 L164.93,141 L166.12,139.8 L167.5,139 L170.77,136.8 L174.04,133.5 L175.52,130.5 L176.41,127 L177,122 L177.25,116 L177.4,115 M177.4,118 L178.39,123 L179.96,133 L181.54,141 L183.12,145.8 L185.09,149.2 L188.05,152.8 L190.52,155.5 L191.7,155.9 L193.38,155.9 L193.47,141 L194.66,139.8 L196.04,139 L199.29,136.8 L202.55,133.5 L204.03,130.5 L204.91,127 L205.51,122 L205.75,116 L205.9,105" stroke="#a8a8a8" stroke-width="0.75"/>
<line x1="61.6" x2="61.6" y1="33.3" y2="122" stroke="#a0a0a0" stroke-width="0.8"/>
<line x1="90.5" x2="90.5" y1="33.3" y2="122" stroke="#a0a0a0" stroke-width="0.8"/>
<line x1="119.6" x2="119.6" y1="33.3" y2="122" stroke="#a0a0a0" stroke-width="0.8"/>
<line x1="148.8" x2="148.8" y1="33.3" y2="122" stroke="#a0a0a0" stroke-width="0.8"/>
<line x1="177.4" x2="177.4" y1="33.3" y2="122" stroke="#a0a0a0" stroke-width="0.8"/>
<line x1="205.9" x2="205.9" y1="33.3" y2="105" stroke="#a0a0a0" stroke-width="0.8"/>
<path d="M31.6,163.5 L32.1,160 L33,152 L33.7,147.3 L34.9,144.8 L36.6,142.8 L38.2,141.1 L39.5,139.1 L40.3,136.2 L41.1,131.6 L41.8,120 L42.6,108 L43.5,95 L44.3,85 L45.1,77 L45.8,70 L46.6,66.8 L47.5,65 L48.2,64.2 L48.7,68 L49.3,78 L50.1,87 L50.9,93.5 L52.2,102 L53.4,108.4 L54.5,112 L56,115.5 L57.5,118.3 L58.5,121.5 L59.4,126 L60.4,131 L61.2,137 L62.5,146.3 L63.9,142.2 L65.3,138.2 L65.9,137.2 L67.6,137.5 L68.5,136.2 L69.5,133.5 L70.5,129 L71,125 L71.5,108 L72,90.4 L72.7,80 L73.8,70.7 L74.4,62 L75.1,56.5 L76,52.2 L76.9,50.2 L77.6,53 L78.2,62 L78.7,75 L79.2,82 L80.7,89.3 L82.7,98.5 L84,100.5 L86,102.5 L87.3,107.8 L89.3,115.7 L90.5,122 L91.3,125.4 L93,121 L94,118.1 L95.7,116 L97.4,113.8 L98.3,110.4 L99.1,104.6 L99.8,97.9 L100.5,88 L101.1,78 L101.6,68 L102.1,56 L102.7,45.2 L104,35.5 L105.5,33.1 L106.7,37.9 L107.9,51.2 L109.4,65 L109.8,72 L110.5,77 L111,81.4 L112.4,88.6 L113.5,92.5 L114.6,95.7 L116.7,102.9 L118.4,110 L119.6,115 L120.6,118.4 L122,113.1 L123.5,109.2 L124.9,106.8 L126.4,103.5 L127.3,99.6 L128.1,94.8 L128.5,90 L129,80 L129.4,70 L129.7,57 L130,45.2 L131.3,34.3 L133.1,28.9 L135.1,26.2 L135.6,26.3 L136.7,30.7 L137.5,45.2 L138.5,62 L139.2,70 L139.6,74.5 L140.9,81.3 L143.1,88.8 L145.4,94.7 L147.3,102.2 L148.3,107 L149.3,112.3 L151,106.9 L152.5,102.1 L153.4,100.7 L155.8,98.3 L156.5,94 L157.2,88 L157.9,80 L158.5,72 L159,64 L159.8,52 L160.6,44 L161.3,41.5 L162.3,38 L163.2,36.4 L163.8,36.6 L165,39 L166,46 L166.9,54 L167.6,60 L168.3,71.4 L169.7,81.4 L171.1,87.1 L173.3,89.3 L175.4,94.3 L176.8,101.4 L177.9,106.2 L179.5,99 L181,93.8 L182.4,91.3 L183.8,89.4 L184.8,84.6 L185.8,79.8 L186.7,75 L187.3,66 L187.8,58 L188.7,47.6 L190.2,37 L191.2,34 L192,33 L193,34.5 L194,38 L195,47.6 L196.2,58 L197,66 L198.5,74.5 L201.2,78 L203,83.5 L204.6,91 L205.6,98" stroke="#ff6060" stroke-width="0.8"/>
<line x1="71.7" x2="71.7" y1="95.0" y2="163.5" stroke="#ffb0b0" stroke-width="0.55" stroke-dasharray="1.2 0.6"/>
<path d="M33,152 L33.7,147.3 M33.7,147.3 L34.9,144.8 M34.9,144.8 L36.6,142.8 M36.6,142.8 L38.2,141.1 M38.2,141.1 L39.5,139.1 M39.5,139.1 L40.3,136.2 M40.3,136.2 L41.1,131.6 M45.8,70 L46.6,66.8 M46.6,66.8 L47.5,65 M47.5,65 L48.2,64.2 M50.9,93.5 L52.2,102 M52.2,102 L53.4,108.4 M53.4,108.4 L54.5,112 M54.5,112 L56,115.5 M56,115.5 L57.5,118.3 M57.5,118.3 L58.5,121.5 M58.5,121.5 L59.4,126 M59.4,126 L60.4,131 M62.5,146.3 L63.9,142.2 M63.9,142.2 L65.3,138.2 M65.3,138.2 L65.9,137.2 M65.9,137.2 L67.6,137.5 M67.6,137.5 L68.5,136.2 M68.5,136.2 L69.5,133.5 M69.5,133.5 L70.5,129 M75.1,56.5 L76,52.2 M76,52.2 L76.9,50.2 M76.9,50.2 L77.6,53 M79.2,82 L80.7,89.3 M80.7,89.3 L82.7,98.5 M82.7,98.5 L84,100.5 M84,100.5 L86,102.5 M86,102.5 L87.3,107.8 M87.3,107.8 L89.3,115.7 M89.3,115.7 L90.5,122 M90.5,122 L91.3,125.4 M91.3,125.4 L93,121 M93,121 L94,118.1 M94,118.1 L95.7,116 M95.7,116 L97.4,113.8 M97.4,113.8 L98.3,110.4 M104,35.5 L105.5,33.1 M105.5,33.1 L106.7,37.9 M111,81.4 L112.4,88.6 M112.4,88.6 L113.5,92.5 M113.5,92.5 L114.6,95.7 M114.6,95.7 L116.7,102.9 M116.7,102.9 L118.4,110 M118.4,110 L119.6,115 M119.6,115 L120.6,118.4 M120.6,118.4 L122,113.1 M122,113.1 L123.5,109.2 M123.5,109.2 L124.9,106.8 M124.9,106.8 L126.4,103.5 M126.4,103.5 L127.3,99.6 M127.3,99.6 L128.1,94.8 M131.3,34.3 L133.1,28.9 M133.1,28.9 L135.1,26.2 M135.1,26.2 L135.6,26.3 M135.6,26.3 L136.7,30.7 M139.6,74.5 L140.9,81.3 M140.9,81.3 L143.1,88.8 M143.1,88.8 L145.4,94.7 M145.4,94.7 L147.3,102.2 M147.3,102.2 L148.3,107 M148.3,107 L149.3,112.3 M149.3,112.3 L151,106.9 M151,106.9 L152.5,102.1 M152.5,102.1 L153.4,100.7 M153.4,100.7 L155.8,98.3 M155.8,98.3 L156.5,94 M160.6,44 L161.3,41.5 M161.3,41.5 L162.3,38 M162.3,38 L163.2,36.4 M163.2,36.4 L163.8,36.6 M163.8,36.6 L165,39 M169.7,81.4 L171.1,87.1 M171.1,87.1 L173.3,89.3 M173.3,89.3 L175.4,94.3 M175.4,94.3 L176.8,101.4 M176.8,101.4 L177.9,106.2 M177.9,106.2 L179.5,99 M179.5,99 L181,93.8 M181,93.8 L182.4,91.3 M182.4,91.3 L183.8,89.4 M183.8,89.4 L184.8,84.6 M184.8,84.6 L185.8,79.8 M185.8,79.8 L186.7,75 M190.2,37 L191.2,34 M191.2,34 L192,33 M192,33 L193,34.5 M193,34.5 L194,38 M197,66 L198.5,74.5 M198.5,74.5 L201.2,78 M201.2,78 L203,83.5 M203,83.5 L204.6,91" stroke="#ff1c1c" stroke-width="0.95"/>
<path d="M34.9,144.8 L36.6,142.8 L38.2,141.1 L39.5,139.1" stroke="#f01010" stroke-width="1.2"/>
<path d="M45.8,70 L46.6,66.8 L47.5,65 L48.2,64.2" stroke="#f01010" stroke-width="1.2"/>
<path d="M76,52.2 L76.9,50.2" stroke="#f01010" stroke-width="1.2"/>
<path d="M104,35.5 L105.5,33.1" stroke="#f01010" stroke-width="1.2"/>
<path d="M133.1,28.9 L135.1,26.2 L135.6,26.3" stroke="#f01010" stroke-width="1.2"/>
<path d="M162.3,38 L163.2,36.4 L163.8,36.6" stroke="#f01010" stroke-width="1.2"/>
<path d="M190.2,37 L191.2,34 L192,33" stroke="#f01010" stroke-width="1.2"/>
<path d="M57.5,118.3 L58.5,121.5 L59.4,126" stroke="#f01010" stroke-width="1.2"/>
<path d="M65.9,137.2 L67.6,137.5 L68.5,136.2" stroke="#f01010" stroke-width="1.2"/>
<path d="M84,100.5 L86,102.5" stroke="#f01010" stroke-width="1.2"/>
<path d="M94,118.1 L95.7,116 L97.4,113.8" stroke="#f01010" stroke-width="1.2"/>
<path d="M113.5,92.5 L114.6,95.7" stroke="#f01010" stroke-width="1.2"/>
<path d="M124.9,106.8 L126.4,103.5" stroke="#f01010" stroke-width="1.2"/>
<path d="M143.1,88.8 L145.4,94.7" stroke="#f01010" stroke-width="1.2"/>
<path d="M153.4,100.7 L155.8,98.3" stroke="#f01010" stroke-width="1.2"/>
<path d="M171.1,87.1 L173.3,89.3" stroke="#f01010" stroke-width="1.2"/>
<path d="M182.4,91.3 L183.8,89.4" stroke="#f01010" stroke-width="1.2"/>
<path d="M31.4,38.5 C31.78,38.27 32.7,37.05 33.7,37.1 C34.7,37.15 36.37,37.98 37.4,38.8 C38.43,39.62 39.07,40.43 39.9,42 C40.73,43.57 41.57,45.92 42.4,48.2 C43.23,50.48 44.08,53.22 44.9,55.7 C45.72,58.18 46.48,60.63 47.3,63.1 C48.12,65.57 48.97,68.03 49.8,70.5 C50.63,72.97 51.47,75.63 52.3,77.9 C53.13,80.17 53.98,82.03 54.8,84.1 C55.62,86.17 56.33,87.78 57.2,90.3 C58.07,92.82 59.17,96.87 60,99.2 C60.83,101.53 61.35,102.6 62.2,104.3 C63.05,106 64.02,107.83 65.1,109.4 C66.18,110.97 67.8,112.82 68.7,113.7 C69.6,114.58 69.88,114.93 70.5,114.7 C71.12,114.47 71.85,112.22 72.4,112.3 C72.95,112.38 73.32,113.87 73.8,115.2 C74.28,116.53 74.45,118.73 75.3,120.3 C76.15,121.87 77.7,123.4 78.9,124.6 C80.1,125.8 81.4,126.48 82.5,127.5 C83.6,128.52 84.52,129.77 85.5,130.7 C86.48,131.63 87.32,132.65 88.4,133.1 C89.48,133.55 90.8,133.35 92,133.4 C93.2,133.45 94.38,133.22 95.6,133.4 C96.82,133.58 97.97,134.07 99.3,134.5 C100.63,134.93 102.15,135.83 103.6,136 C105.05,136.17 106.67,135.5 108,135.5 C109.33,135.5 110.43,136.4 111.6,136 C112.77,135.6 113.78,133.05 115,133.1 C116.22,133.15 117.52,136.02 118.9,136.3 C120.28,136.58 121.92,135.47 123.3,134.8 C124.68,134.13 126.12,132.18 127.2,132.3 C128.28,132.42 128.88,134.23 129.8,135.5 C130.72,136.77 131.37,138.88 132.7,139.9 C134.03,140.92 136.5,141.27 137.8,141.6 C139.1,141.93 139.58,141.67 140.5,141.9 C141.42,142.13 142.38,142.55 143.3,143 C144.22,143.45 145.08,144.22 146,144.6 C146.92,144.98 147.87,145.42 148.8,145.3 C149.73,145.18 150.68,144.58 151.6,143.9 C152.52,143.22 153.38,141.58 154.3,141.2 C155.22,140.82 156.17,142.07 157.1,141.6 C158.03,141.13 158.87,139.55 159.9,138.4 C160.93,137.25 162.15,135.27 163.3,134.7 C164.45,134.13 165.65,134.95 166.8,135 C167.95,135.05 169.05,134.55 170.2,135 C171.35,135.45 172.55,136.83 173.7,137.7 C174.85,138.57 176.07,139.55 177.1,140.2 C178.13,140.85 178.87,141.55 179.9,141.6 C180.93,141.65 182.15,141.15 183.3,140.5 C184.45,139.85 185.65,138.97 186.8,137.7 C187.95,136.43 188.98,134.05 190.2,132.9 C191.42,131.75 192.83,130.68 194.1,130.8 C195.37,130.92 196.6,132.57 197.8,133.6 C199,134.63 200.13,135.97 201.3,137 C202.47,138.03 203.62,139.27 204.8,139.8 C205.98,140.33 207.8,140.13 208.4,140.2" stroke="#28a0e2" stroke-width="1.3"/>
</g>
<rect x="31.4" y="21.2" width="177.2" height="142.7" fill="none" stroke="#505050" stroke-width="1.3"/>
<line x1="28.4" x2="31.4" y1="157.6" y2="157.6" stroke="#505050" stroke-width="1"/>
<text x="27" y="159.75" text-anchor="end" class="tk">0.0</text>
<line x1="29.8" x2="31.4" y1="145.2" y2="145.2" stroke="#505050" stroke-width="1"/>
<line x1="28.4" x2="31.4" y1="132.8" y2="132.8" stroke="#505050" stroke-width="1"/>
<text x="27" y="134.95" text-anchor="end" class="tk">0.2</text>
<line x1="29.8" x2="31.4" y1="120.4" y2="120.4" stroke="#505050" stroke-width="1"/>
<line x1="28.4" x2="31.4" y1="108" y2="108" stroke="#505050" stroke-width="1"/>
<text x="27" y="110.15" text-anchor="end" class="tk">0.4</text>
<line x1="29.8" x2="31.4" y1="95.6" y2="95.6" stroke="#505050" stroke-width="1"/>
<line x1="28.4" x2="31.4" y1="83.2" y2="83.2" stroke="#505050" stroke-width="1"/>
<text x="27" y="85.35" text-anchor="end" class="tk">0.6</text>
<line x1="29.8" x2="31.4" y1="70.8" y2="70.8" stroke="#505050" stroke-width="1"/>
<line x1="28.4" x2="31.4" y1="58.4" y2="58.4" stroke="#505050" stroke-width="1"/>
<text x="27" y="60.55" text-anchor="end" class="tk">0.8</text>
<line x1="29.8" x2="31.4" y1="46" y2="46" stroke="#505050" stroke-width="1"/>
<line x1="28.4" x2="31.4" y1="33.6" y2="33.6" stroke="#505050" stroke-width="1"/>
<text x="27" y="35.75" text-anchor="end" class="tk">1.0</text>
<line x1="31.4" x2="31.4" y1="163.9" y2="166.7" stroke="#505050" stroke-width="1"/>
<text x="31.4" y="175.0" text-anchor="middle" class="tk">0</text>
<line x1="46.17" x2="46.17" y1="163.9" y2="165.4" stroke="#505050" stroke-width="1"/>
<line x1="60.93" x2="60.93" y1="163.9" y2="166.7" stroke="#505050" stroke-width="1"/>
<text x="60.93" y="175.0" text-anchor="middle" class="tk">50</text>
<line x1="75.7" x2="75.7" y1="163.9" y2="165.4" stroke="#505050" stroke-width="1"/>
<line x1="90.47" x2="90.47" y1="163.9" y2="166.7" stroke="#505050" stroke-width="1"/>
<text x="90.47" y="175.0" text-anchor="middle" class="tk">100</text>
<line x1="105.23" x2="105.23" y1="163.9" y2="165.4" stroke="#505050" stroke-width="1"/>
<line x1="120" x2="120" y1="163.9" y2="166.7" stroke="#505050" stroke-width="1"/>
<text x="120" y="175.0" text-anchor="middle" class="tk">150</text>
<line x1="134.77" x2="134.77" y1="163.9" y2="165.4" stroke="#505050" stroke-width="1"/>
<line x1="149.53" x2="149.53" y1="163.9" y2="166.7" stroke="#505050" stroke-width="1"/>
<text x="149.53" y="175.0" text-anchor="middle" class="tk">200</text>
<line x1="164.3" x2="164.3" y1="163.9" y2="165.4" stroke="#505050" stroke-width="1"/>
<line x1="179.07" x2="179.07" y1="163.9" y2="166.7" stroke="#505050" stroke-width="1"/>
<text x="179.07" y="175.0" text-anchor="middle" class="tk">250</text>
<line x1="193.83" x2="193.83" y1="163.9" y2="165.4" stroke="#505050" stroke-width="1"/>
<line x1="208.6" x2="208.6" y1="163.9" y2="166.7" stroke="#505050" stroke-width="1"/>
<text x="208.6" y="175.0" text-anchor="middle" class="tk">300</text>
<line x1="208.6" x2="211.6" y1="162.5" y2="162.5" stroke="#505050" stroke-width="1"/>
<text x="213.1" y="164.5" class="tk rt">0</text>
<line x1="208.6" x2="210.2" y1="148.4" y2="148.4" stroke="#505050" stroke-width="1"/>
<line x1="208.6" x2="211.6" y1="134.3" y2="134.3" stroke="#505050" stroke-width="1"/>
<text x="213.1" y="136.3" class="tk rt">2</text>
<line x1="208.6" x2="210.2" y1="120.2" y2="120.2" stroke="#505050" stroke-width="1"/>
<line x1="208.6" x2="211.6" y1="106.1" y2="106.1" stroke="#505050" stroke-width="1"/>
<text x="213.1" y="108.1" class="tk rt">4</text>
<line x1="208.6" x2="210.2" y1="92" y2="92" stroke="#505050" stroke-width="1"/>
<line x1="208.6" x2="211.6" y1="77.9" y2="77.9" stroke="#505050" stroke-width="1"/>
<text x="213.1" y="79.9" class="tk rt">6</text>
<line x1="208.6" x2="210.2" y1="63.8" y2="63.8" stroke="#505050" stroke-width="1"/>
<line x1="208.6" x2="211.6" y1="49.7" y2="49.7" stroke="#505050" stroke-width="1"/>
<text x="213.1" y="51.7" class="tk rt">8</text>
<line x1="208.6" x2="210.2" y1="35.6" y2="35.6" stroke="#505050" stroke-width="1"/>
<line x1="208.6" x2="211.6" y1="21.5" y2="21.5" stroke="#505050" stroke-width="1"/>
<text x="213.1" y="23.5" class="tk rt">10</text>
<line x1="237.1" x2="237.1" y1="21.2" y2="163.9" stroke="#505050" stroke-width="1.2"/>
<line x1="237.1" x2="239.29999999999998" y1="21.2" y2="21.2" stroke="#505050" stroke-width="1"/>
<line x1="237.1" x2="239.29999999999998" y1="163.9" y2="163.9" stroke="#505050" stroke-width="1"/>
<line x1="237.1" x2="238.5" y1="126.85" y2="126.85" stroke="#505050" stroke-width="0.9"/>
<line x1="237.1" x2="238.5" y1="103.82" y2="103.82" stroke="#505050" stroke-width="0.9"/>
<line x1="237.1" x2="238.5" y1="87.07" y2="87.07" stroke="#505050" stroke-width="0.9"/>
<line x1="237.1" x2="238.5" y1="73.9" y2="73.9" stroke="#505050" stroke-width="0.9"/>
<line x1="237.1" x2="238.5" y1="63.04" y2="63.04" stroke="#505050" stroke-width="0.9"/>
<line x1="237.1" x2="238.5" y1="53.8" y2="53.8" stroke="#505050" stroke-width="0.9"/>
<line x1="237.1" x2="238.5" y1="45.77" y2="45.77" stroke="#505050" stroke-width="0.9"/>
<line x1="237.1" x2="238.5" y1="38.65" y2="38.65" stroke="#505050" stroke-width="0.9"/>
<line x1="237.1" x2="238.5" y1="32.27" y2="32.27" stroke="#505050" stroke-width="0.9"/>
<line x1="237.1" x2="238.5" y1="26.49" y2="26.49" stroke="#505050" stroke-width="0.9"/>
<text x="242.1" y="23.9" class="itk">10<tspan dx="0.5" dy="-2.7" font-size="5.8">-10</tspan></text>
<text x="242.1" y="166.8" class="itk">10<tspan dx="0.5" dy="-2.7" font-size="5.8">-11</tspan></text>
<text transform="translate(10.9,92.3) rotate(-90)" text-anchor="middle" class="ttl" style="font-size:8.8px">Potential vs. Li/Li<tspan dx="0.5" dy="-3.3" font-size="6.2">+</tspan><tspan dx="0.3" dy="3.3">  /  V</tspan></text>
<text transform="translate(231.4,92.5) rotate(-90)" text-anchor="middle" class="ttl">Thickness Change<tspan dy="2.2" font-size="5.6">relative</tspan><tspan dy="-2.2">  /  %</tspan></text>
<text transform="translate(259.4,92.4) rotate(-90)" text-anchor="middle" class="ttl" style="font-size:8.8px">Ion Current <tspan fill="#2aa0e0" stroke="#2aa0e0">(m/z = 39)</tspan>  /  A</text>
<text x="120.3" y="186.9" text-anchor="middle" class="ttl tm">Time  /  h</text>
<rect x="33.2" y="23" width="11.7" height="11.4" fill="#fff" stroke="#e4e4e4" stroke-width="0.6"/>
<text x="39" y="31.3" text-anchor="middle" class="tk">(c)</text>
</g><g transform="translate(271.3,173)" class="pd">
<g clip-path="url(#clp)" fill="none" stroke-linejoin="round" stroke-linecap="round">
<path d="M32.6,137.5 L33.4,140.5 L34.1,143.6 L35.3,146.9 L37.4,148.5 L39.1,150.6 L40.3,151.8 L42.3,152.2 L43.6,153.9 L45.2,155.9 L48.2,156 L48.3,142.5 L50.4,141.6 L53.2,140 L55.7,139 L57.8,136.3 L59.3,132 L60.5,127 L61.3,118 L61.6,115 M61.6,118 L62.6,123 L64.2,133 L65.8,141 L67.4,145.8 L69.4,149.2 L72.4,152.8 L74.9,155.5 L76.1,155.9 L77.8,155.9 L77.9,141 L79.1,139.8 L80.5,139 L83.8,136.8 L87.1,133.5 L88.6,130.5 L89.5,127 L90.1,122 L90.35,116 L90.5,115 M90.5,118 L91.51,123 L93.12,133 L94.73,141 L96.34,145.8 L98.35,149.2 L101.37,152.8 L103.89,155.5 L105.1,155.9 L106.81,155.9 L106.91,141 L108.12,139.8 L109.53,139 L112.85,136.8 L116.18,133.5 L117.69,130.5 L118.59,127 L119.2,122 L119.45,116 L119.6,115 M119.6,118 L120.61,123 L122.23,133 L123.84,141 L125.46,145.8 L127.48,149.2 L130.51,152.8 L133.04,155.5 L134.25,155.9 L135.97,155.9 L136.07,141 L137.28,139.8 L138.7,139 L142.03,136.8 L145.36,133.5 L146.88,130.5 L147.79,127 L148.4,122 L148.65,116 L148.8,115 M148.8,118 L149.79,123 L151.37,133 L152.96,141 L154.54,145.8 L156.52,149.2 L159.49,152.8 L161.96,155.5 L163.15,155.9 L164.83,155.9 L164.93,141 L166.12,139.8 L167.5,139 L170.77,136.8 L174.04,133.5 L175.52,130.5 L176.41,127 L177,122 L177.25,116 L177.4,115 M177.4,118 L178.39,123 L179.96,133 L181.54,141 L183.12,145.8 L185.09,149.2 L188.05,152.8 L190.52,155.5 L191.7,155.9 L193.38,155.9 L193.47,141 L194.66,139.8 L196.04,139 L199.29,136.8 L202.55,133.5 L204.03,130.5 L204.91,127 L205.51,122 L205.75,116 L205.9,105" stroke="#a8a8a8" stroke-width="0.75"/>
<line x1="61.6" x2="61.6" y1="33.3" y2="122" stroke="#a0a0a0" stroke-width="0.8"/>
<line x1="90.5" x2="90.5" y1="33.3" y2="122" stroke="#a0a0a0" stroke-width="0.8"/>
<line x1="119.6" x2="119.6" y1="33.3" y2="122" stroke="#a0a0a0" stroke-width="0.8"/>
<line x1="148.8" x2="148.8" y1="33.3" y2="122" stroke="#a0a0a0" stroke-width="0.8"/>
<line x1="177.4" x2="177.4" y1="33.3" y2="122" stroke="#a0a0a0" stroke-width="0.8"/>
<line x1="205.9" x2="205.9" y1="33.3" y2="105" stroke="#a0a0a0" stroke-width="0.8"/>
<path d="M31.6,163.5 L32.1,160 L33,152 L33.7,147.3 L34.9,144.8 L36.6,142.8 L38.2,141.1 L39.5,139.1 L40.3,136.2 L41.1,131.6 L41.8,120 L42.6,108 L43.5,95 L44.3,85 L45.1,77 L45.8,70 L46.6,66.8 L47.5,65 L48.2,64.2 L48.7,68 L49.3,78 L50.1,87 L50.9,93.5 L52.2,102 L53.4,108.4 L54.5,112 L56,115.5 L57.5,118.3 L58.5,121.5 L59.4,126 L60.4,131 L61.2,137 L62.5,146.3 L63.9,142.2 L65.3,138.2 L65.9,137.2 L67.6,137.5 L68.5,136.2 L69.5,133.5 L70.5,129 L71,125 L71.5,108 L72,90.4 L72.7,80 L73.8,70.7 L74.4,62 L75.1,56.5 L76,52.2 L76.9,50.2 L77.6,53 L78.2,62 L78.7,75 L79.2,82 L80.7,89.3 L82.7,98.5 L84,100.5 L86,102.5 L87.3,107.8 L89.3,115.7 L90.5,122 L91.3,125.4 L93,121 L94,118.1 L95.7,116 L97.4,113.8 L98.3,110.4 L99.1,104.6 L99.8,97.9 L100.5,88 L101.1,78 L101.6,68 L102.1,56 L102.7,45.2 L104,35.5 L105.5,33.1 L106.7,37.9 L107.9,51.2 L109.4,65 L109.8,72 L110.5,77 L111,81.4 L112.4,88.6 L113.5,92.5 L114.6,95.7 L116.7,102.9 L118.4,110 L119.6,115 L120.6,118.4 L122,113.1 L123.5,109.2 L124.9,106.8 L126.4,103.5 L127.3,99.6 L128.1,94.8 L128.5,90 L129,80 L129.4,70 L129.7,57 L130,45.2 L131.3,34.3 L133.1,28.9 L135.1,26.2 L135.6,26.3 L136.7,30.7 L137.5,45.2 L138.5,62 L139.2,70 L139.6,74.5 L140.9,81.3 L143.1,88.8 L145.4,94.7 L147.3,102.2 L148.3,107 L149.3,112.3 L151,106.9 L152.5,102.1 L153.4,100.7 L155.8,98.3 L156.5,94 L157.2,88 L157.9,80 L158.5,72 L159,64 L159.8,52 L160.6,44 L161.3,41.5 L162.3,38 L163.2,36.4 L163.8,36.6 L165,39 L166,46 L166.9,54 L167.6,60 L168.3,71.4 L169.7,81.4 L171.1,87.1 L173.3,89.3 L175.4,94.3 L176.8,101.4 L177.9,106.2 L179.5,99 L181,93.8 L182.4,91.3 L183.8,89.4 L184.8,84.6 L185.8,79.8 L186.7,75 L187.3,66 L187.8,58 L188.7,47.6 L190.2,37 L191.2,34 L192,33 L193,34.5 L194,38 L195,47.6 L196.2,58 L197,66 L198.5,74.5 L201.2,78 L203,83.5 L204.6,91 L205.6,98" stroke="#ff6060" stroke-width="0.8"/>
<line x1="71.7" x2="71.7" y1="95.0" y2="163.5" stroke="#ffb0b0" stroke-width="0.55" stroke-dasharray="1.2 0.6"/>
<path d="M33,152 L33.7,147.3 M33.7,147.3 L34.9,144.8 M34.9,144.8 L36.6,142.8 M36.6,142.8 L38.2,141.1 M38.2,141.1 L39.5,139.1 M39.5,139.1 L40.3,136.2 M40.3,136.2 L41.1,131.6 M45.8,70 L46.6,66.8 M46.6,66.8 L47.5,65 M47.5,65 L48.2,64.2 M50.9,93.5 L52.2,102 M52.2,102 L53.4,108.4 M53.4,108.4 L54.5,112 M54.5,112 L56,115.5 M56,115.5 L57.5,118.3 M57.5,118.3 L58.5,121.5 M58.5,121.5 L59.4,126 M59.4,126 L60.4,131 M62.5,146.3 L63.9,142.2 M63.9,142.2 L65.3,138.2 M65.3,138.2 L65.9,137.2 M65.9,137.2 L67.6,137.5 M67.6,137.5 L68.5,136.2 M68.5,136.2 L69.5,133.5 M69.5,133.5 L70.5,129 M75.1,56.5 L76,52.2 M76,52.2 L76.9,50.2 M76.9,50.2 L77.6,53 M79.2,82 L80.7,89.3 M80.7,89.3 L82.7,98.5 M82.7,98.5 L84,100.5 M84,100.5 L86,102.5 M86,102.5 L87.3,107.8 M87.3,107.8 L89.3,115.7 M89.3,115.7 L90.5,122 M90.5,122 L91.3,125.4 M91.3,125.4 L93,121 M93,121 L94,118.1 M94,118.1 L95.7,116 M95.7,116 L97.4,113.8 M97.4,113.8 L98.3,110.4 M104,35.5 L105.5,33.1 M105.5,33.1 L106.7,37.9 M111,81.4 L112.4,88.6 M112.4,88.6 L113.5,92.5 M113.5,92.5 L114.6,95.7 M114.6,95.7 L116.7,102.9 M116.7,102.9 L118.4,110 M118.4,110 L119.6,115 M119.6,115 L120.6,118.4 M120.6,118.4 L122,113.1 M122,113.1 L123.5,109.2 M123.5,109.2 L124.9,106.8 M124.9,106.8 L126.4,103.5 M126.4,103.5 L127.3,99.6 M127.3,99.6 L128.1,94.8 M131.3,34.3 L133.1,28.9 M133.1,28.9 L135.1,26.2 M135.1,26.2 L135.6,26.3 M135.6,26.3 L136.7,30.7 M139.6,74.5 L140.9,81.3 M140.9,81.3 L143.1,88.8 M143.1,88.8 L145.4,94.7 M145.4,94.7 L147.3,102.2 M147.3,102.2 L148.3,107 M148.3,107 L149.3,112.3 M149.3,112.3 L151,106.9 M151,106.9 L152.5,102.1 M152.5,102.1 L153.4,100.7 M153.4,100.7 L155.8,98.3 M155.8,98.3 L156.5,94 M160.6,44 L161.3,41.5 M161.3,41.5 L162.3,38 M162.3,38 L163.2,36.4 M163.2,36.4 L163.8,36.6 M163.8,36.6 L165,39 M169.7,81.4 L171.1,87.1 M171.1,87.1 L173.3,89.3 M173.3,89.3 L175.4,94.3 M175.4,94.3 L176.8,101.4 M176.8,101.4 L177.9,106.2 M177.9,106.2 L179.5,99 M179.5,99 L181,93.8 M181,93.8 L182.4,91.3 M182.4,91.3 L183.8,89.4 M183.8,89.4 L184.8,84.6 M184.8,84.6 L185.8,79.8 M185.8,79.8 L186.7,75 M190.2,37 L191.2,34 M191.2,34 L192,33 M192,33 L193,34.5 M193,34.5 L194,38 M197,66 L198.5,74.5 M198.5,74.5 L201.2,78 M201.2,78 L203,83.5 M203,83.5 L204.6,91" stroke="#ff1c1c" stroke-width="0.95"/>
<path d="M34.9,144.8 L36.6,142.8 L38.2,141.1 L39.5,139.1" stroke="#f01010" stroke-width="1.2"/>
<path d="M45.8,70 L46.6,66.8 L47.5,65 L48.2,64.2" stroke="#f01010" stroke-width="1.2"/>
<path d="M76,52.2 L76.9,50.2" stroke="#f01010" stroke-width="1.2"/>
<path d="M104,35.5 L105.5,33.1" stroke="#f01010" stroke-width="1.2"/>
<path d="M133.1,28.9 L135.1,26.2 L135.6,26.3" stroke="#f01010" stroke-width="1.2"/>
<path d="M162.3,38 L163.2,36.4 L163.8,36.6" stroke="#f01010" stroke-width="1.2"/>
<path d="M190.2,37 L191.2,34 L192,33" stroke="#f01010" stroke-width="1.2"/>
<path d="M57.5,118.3 L58.5,121.5 L59.4,126" stroke="#f01010" stroke-width="1.2"/>
<path d="M65.9,137.2 L67.6,137.5 L68.5,136.2" stroke="#f01010" stroke-width="1.2"/>
<path d="M84,100.5 L86,102.5" stroke="#f01010" stroke-width="1.2"/>
<path d="M94,118.1 L95.7,116 L97.4,113.8" stroke="#f01010" stroke-width="1.2"/>
<path d="M113.5,92.5 L114.6,95.7" stroke="#f01010" stroke-width="1.2"/>
<path d="M124.9,106.8 L126.4,103.5" stroke="#f01010" stroke-width="1.2"/>
<path d="M143.1,88.8 L145.4,94.7" stroke="#f01010" stroke-width="1.2"/>
<path d="M153.4,100.7 L155.8,98.3" stroke="#f01010" stroke-width="1.2"/>
<path d="M171.1,87.1 L173.3,89.3" stroke="#f01010" stroke-width="1.2"/>
<path d="M182.4,91.3 L183.8,89.4" stroke="#f01010" stroke-width="1.2"/>
<path d="M31.4,147 L31.58,146.37 L31.83,145.47 L32.12,144.46 L32.4,143.5 L32.67,142.65 L32.94,141.81 L33.22,140.95 L33.5,140 L33.68,139.31 L33.87,138.57 L34.06,137.81 L34.24,137.04 L34.42,136.26 L34.6,135.5 L34.77,134.75 L34.93,133.99 L35.09,133.22 L35.25,132.47 L35.42,131.73 L35.6,131 L35.83,130.14 L36.06,129.3 L36.31,128.47 L36.58,127.67 L36.9,126.9 L37.26,126.17 L37.65,125.46 L38.07,124.78 L38.52,124.13 L39,123.5 L39.53,122.87 L40.12,122.24 L40.73,121.64 L41.3,121.12 L41.8,120.7 L42.74,120.04 L43.5,120 L43.98,120.57 L44.42,121.45 L44.9,122.1 L45.67,122.32 L46.6,122.1 L47.2,121.85 L47.88,121.48 L48.59,121.08 L49.3,120.7 L50.01,120.39 L50.74,120.09 L51.45,119.78 L52.1,119.4 L52.85,118.86 L53.51,118.23 L54.1,117.3 L54.37,116.68 L54.61,115.96 L54.84,115.17 L55.06,114.33 L55.27,113.43 L55.5,112.5 L55.68,111.74 L55.88,110.89 L56.07,109.99 L56.27,109.08 L56.46,108.18 L56.63,107.35 L56.78,106.61 L56.9,106 L57,105.22 L57.2,104 L57.31,103.49 L57.43,102.87 L57.58,102.18 L57.74,101.42 L57.91,100.6 L58.09,99.75 L58.28,98.88 L58.47,98 L58.66,97.13 L58.85,96.27 L59.04,95.46 L59.23,94.7 L59.4,94 L59.64,93.08 L59.89,92.22 L60.13,91.4 L60.38,90.62 L60.62,89.86 L60.87,89.12 L61.11,88.39 L61.36,87.65 L61.6,86.9 L61.84,86.14 L62.09,85.4 L62.33,84.66 L62.58,83.93 L62.82,83.21 L63.07,82.48 L63.31,81.76 L63.56,81.03 L63.8,80.3 L64.05,79.56 L64.3,78.8 L64.56,78.04 L64.81,77.28 L65.06,76.52 L65.31,75.78 L65.55,75.06 L65.78,74.36 L66,73.7 L66.3,72.77 L66.57,71.91 L66.83,71.09 L67.08,70.3 L67.33,69.51 L67.6,68.7 L67.88,67.88 L68.16,67.07 L68.44,66.27 L68.73,65.46 L69.02,64.64 L69.3,63.8 L69.54,63.05 L69.79,62.28 L70.03,61.49 L70.28,60.7 L70.52,59.93 L70.76,59.19 L71,58.5 L71.33,57.57 L71.65,56.68 L71.96,55.84 L72.28,55.11 L72.6,54.5 L73.39,53.62 L74.2,53.2 L75.05,52.99 L75.9,52.9 L76.7,52.78 L77.5,52.6 L78.34,52.31 L79.2,51.8 L79.77,51.24 L80.34,50.54 L80.9,49.8 L81.44,49.04 L81.96,48.24 L82.5,47.4 L82.92,46.75 L83.35,46.07 L83.78,45.39 L84.2,44.7 L84.6,44.01 L85,43.31 L85.4,42.61 L85.8,41.9 L86.22,41.17 L86.65,40.42 L87.08,39.69 L87.5,39 L88.04,38.13 L88.56,37.32 L89.1,36.6 L89.66,35.97 L90.24,35.43 L90.8,34.97 L91.61,34.53 L92.4,34.19 L93.19,34.53 L94,34.94 L94.85,35.41 L95.7,36.4 L96.24,36.6 L96.77,37.4 L97.3,37.65 L97.81,38.19 L98.32,39.02 L98.9,40.02 L99.41,39.83 L99.96,40.47 L100.54,41.48 L101.1,42.39 L101.66,42.56 L102.23,42.94 L102.79,44.14 L103.3,43.6 L104.19,45.23 L105,45.17 L105.8,45.45 L106.6,45.88 L107.16,46.53 L107.74,47.6 L108.3,47.45 L108.84,48.5 L109.37,49.21 L109.9,49.46 L110.66,50.19 L111.5,50.02 L112.61,50.18 L113.7,50.58 L114.41,51.61 L115.1,52.22 L115.46,52.66 L115.85,53.64 L116.26,54.24 L116.68,54.81 L117.1,56.02 L117.62,56.69 L118.14,56.94 L118.67,57.99 L119.2,58.53 L119.9,59.49 L120.61,59.74 L121.3,59.67 L121.97,60.87 L122.63,60.34 L123.3,61.11 L124,62.05 L124.7,61.95 L125.4,62.59 L126.07,61.7 L126.73,61.7 L127.4,61.49 L128.09,61.7 L128.8,62.84 L129.5,63.1 L130.03,64.18 L130.56,64.8 L131.08,65.49 L131.6,65.95 L132.27,67.02 L132.93,67.64 L133.6,67.37 L134.3,67.41 L135,66.32 L135.7,66.72 L136.7,66.62 L137.7,67.24 L138.39,67.46 L139.1,67.4 L139.8,67.97 L140.86,68.6 L141.9,68.27 L142.57,69.3 L143.23,69.66 L143.9,70.38 L144.42,70.98 L144.95,72.49 L145.48,72.52 L146,73.32 L146.67,74.29 L147.33,75.56 L148,75.24 L149.04,76 L150.1,76.15 L151.16,76.22 L152.2,76.05 L152.87,76.56 L153.53,76.64 L154.2,77.61 L154.72,78.19 L155.25,79.48 L155.78,80.29 L156.3,80.12 L156.8,80.91 L157.28,81.8 L157.77,82.5 L158.3,83.18 L159.11,83.15 L159.96,82.21 L160.7,81.55 L161.47,82.18 L162.1,82.66 L162.75,83.84 L163.4,85.1 L164.8,84.41 L165.5,84.56 L166.2,85.03 L167.6,84.79 L168.21,84.76 L168.9,86.64 L169.54,87.21 L170.27,88.07 L171,88.63 L171.7,88.58 L172.41,88.87 L173.1,88.96 L173.6,90.06 L174.1,90.05 L174.6,90.68 L175.1,91.38 L175.82,91.81 L176.55,92.39 L177.2,92.61 L177.6,93.16 L177.95,94.05 L178.27,94.73 L178.6,95.65 L179.25,96.36 L179.9,97.91 L180.59,97.28 L181.3,96.11 L182,95.77 L182.7,95.63 L183.41,96.01 L184.1,96.09 L184.75,96.42 L185.4,96.14 L186.05,95.89 L186.8,96.48 L187.45,96.34 L188.18,96.67 L188.9,97.33 L189.59,97.9 L190.26,99.27 L190.9,98.93 L191.76,98.4 L192.6,98.4 L192.96,97.31 L193.34,96.1 L193.71,95.71 L194.07,94.43 L194.4,94.53 L195.7,95.73 L196.03,96.35 L196.35,97.18 L196.7,97.68 L197.1,98.45 L198.11,98.35 L199.2,98.6 L200.24,97.98 L201.2,97.81 L201.94,96.68 L202.6,96.2 L203.26,97.22 L204,98.43 L204.3,98.84 L204.62,99.48 L204.96,100.26 L205.3,100.95 L205.65,101.1 L206,102.02 L206.72,102.79 L207.45,103.16 L208.1,103.58 L208.93,103.64 L209.5,103.14" stroke="#f4e000" stroke-width="1.7"/>
</g>
<rect x="31.4" y="21.2" width="177.2" height="142.7" fill="none" stroke="#505050" stroke-width="1.3"/>
<line x1="28.4" x2="31.4" y1="157.6" y2="157.6" stroke="#505050" stroke-width="1"/>
<text x="27" y="159.75" text-anchor="end" class="tk">0.0</text>
<line x1="29.8" x2="31.4" y1="145.2" y2="145.2" stroke="#505050" stroke-width="1"/>
<line x1="28.4" x2="31.4" y1="132.8" y2="132.8" stroke="#505050" stroke-width="1"/>
<text x="27" y="134.95" text-anchor="end" class="tk">0.2</text>
<line x1="29.8" x2="31.4" y1="120.4" y2="120.4" stroke="#505050" stroke-width="1"/>
<line x1="28.4" x2="31.4" y1="108" y2="108" stroke="#505050" stroke-width="1"/>
<text x="27" y="110.15" text-anchor="end" class="tk">0.4</text>
<line x1="29.8" x2="31.4" y1="95.6" y2="95.6" stroke="#505050" stroke-width="1"/>
<line x1="28.4" x2="31.4" y1="83.2" y2="83.2" stroke="#505050" stroke-width="1"/>
<text x="27" y="85.35" text-anchor="end" class="tk">0.6</text>
<line x1="29.8" x2="31.4" y1="70.8" y2="70.8" stroke="#505050" stroke-width="1"/>
<line x1="28.4" x2="31.4" y1="58.4" y2="58.4" stroke="#505050" stroke-width="1"/>
<text x="27" y="60.55" text-anchor="end" class="tk">0.8</text>
<line x1="29.8" x2="31.4" y1="46" y2="46" stroke="#505050" stroke-width="1"/>
<line x1="28.4" x2="31.4" y1="33.6" y2="33.6" stroke="#505050" stroke-width="1"/>
<text x="27" y="35.75" text-anchor="end" class="tk">1.0</text>
<line x1="31.4" x2="31.4" y1="163.9" y2="166.7" stroke="#505050" stroke-width="1"/>
<text x="31.4" y="175.0" text-anchor="middle" class="tk">0</text>
<line x1="46.17" x2="46.17" y1="163.9" y2="165.4" stroke="#505050" stroke-width="1"/>
<line x1="60.93" x2="60.93" y1="163.9" y2="166.7" stroke="#505050" stroke-width="1"/>
<text x="60.93" y="175.0" text-anchor="middle" class="tk">50</text>
<line x1="75.7" x2="75.7" y1="163.9" y2="165.4" stroke="#505050" stroke-width="1"/>
<line x1="90.47" x2="90.47" y1="163.9" y2="166.7" stroke="#505050" stroke-width="1"/>
<text x="90.47" y="175.0" text-anchor="middle" class="tk">100</text>
<line x1="105.23" x2="105.23" y1="163.9" y2="165.4" stroke="#505050" stroke-width="1"/>
<line x1="120" x2="120" y1="163.9" y2="166.7" stroke="#505050" stroke-width="1"/>
<text x="120" y="175.0" text-anchor="middle" class="tk">150</text>
<line x1="134.77" x2="134.77" y1="163.9" y2="165.4" stroke="#505050" stroke-width="1"/>
<line x1="149.53" x2="149.53" y1="163.9" y2="166.7" stroke="#505050" stroke-width="1"/>
<text x="149.53" y="175.0" text-anchor="middle" class="tk">200</text>
<line x1="164.3" x2="164.3" y1="163.9" y2="165.4" stroke="#505050" stroke-width="1"/>
<line x1="179.07" x2="179.07" y1="163.9" y2="166.7" stroke="#505050" stroke-width="1"/>
<text x="179.07" y="175.0" text-anchor="middle" class="tk">250</text>
<line x1="193.83" x2="193.83" y1="163.9" y2="165.4" stroke="#505050" stroke-width="1"/>
<line x1="208.6" x2="208.6" y1="163.9" y2="166.7" stroke="#505050" stroke-width="1"/>
<text x="208.6" y="175.0" text-anchor="middle" class="tk">300</text>
<line x1="208.6" x2="211.6" y1="162.5" y2="162.5" stroke="#505050" stroke-width="1"/>
<text x="213.1" y="164.5" class="tk rt">0</text>
<line x1="208.6" x2="210.2" y1="148.4" y2="148.4" stroke="#505050" stroke-width="1"/>
<line x1="208.6" x2="211.6" y1="134.3" y2="134.3" stroke="#505050" stroke-width="1"/>
<text x="213.1" y="136.3" class="tk rt">2</text>
<line x1="208.6" x2="210.2" y1="120.2" y2="120.2" stroke="#505050" stroke-width="1"/>
<line x1="208.6" x2="211.6" y1="106.1" y2="106.1" stroke="#505050" stroke-width="1"/>
<text x="213.1" y="108.1" class="tk rt">4</text>
<line x1="208.6" x2="210.2" y1="92" y2="92" stroke="#505050" stroke-width="1"/>
<line x1="208.6" x2="211.6" y1="77.9" y2="77.9" stroke="#505050" stroke-width="1"/>
<text x="213.1" y="79.9" class="tk rt">6</text>
<line x1="208.6" x2="210.2" y1="63.8" y2="63.8" stroke="#505050" stroke-width="1"/>
<line x1="208.6" x2="211.6" y1="49.7" y2="49.7" stroke="#505050" stroke-width="1"/>
<text x="213.1" y="51.7" class="tk rt">8</text>
<line x1="208.6" x2="210.2" y1="35.6" y2="35.6" stroke="#505050" stroke-width="1"/>
<line x1="208.6" x2="211.6" y1="21.5" y2="21.5" stroke="#505050" stroke-width="1"/>
<text x="213.1" y="23.5" class="tk rt">10</text>
<line x1="238.7" x2="238.7" y1="21.2" y2="163.9" stroke="#505050" stroke-width="1.2"/>
<line x1="238.7" x2="240.89999999999998" y1="21.2" y2="21.2" stroke="#505050" stroke-width="1"/>
<line x1="238.7" x2="240.89999999999998" y1="163.9" y2="163.9" stroke="#505050" stroke-width="1"/>
<line x1="238.7" x2="240.1" y1="130.1" y2="130.1" stroke="#505050" stroke-width="0.9"/>
<line x1="238.7" x2="240.1" y1="107.56" y2="107.56" stroke="#505050" stroke-width="0.9"/>
<line x1="238.7" x2="240.1" y1="90.62" y2="90.62" stroke="#505050" stroke-width="0.9"/>
<line x1="238.7" x2="240.1" y1="77.04" y2="77.04" stroke="#505050" stroke-width="0.9"/>
<line x1="238.7" x2="240.1" y1="65.72" y2="65.72" stroke="#505050" stroke-width="0.9"/>
<line x1="238.7" x2="240.1" y1="56" y2="56" stroke="#505050" stroke-width="0.9"/>
<line x1="238.7" x2="240.1" y1="47.48" y2="47.48" stroke="#505050" stroke-width="0.9"/>
<line x1="238.7" x2="240.1" y1="39.91" y2="39.91" stroke="#505050" stroke-width="0.9"/>
<line x1="238.7" x2="240.1" y1="33.09" y2="33.09" stroke="#505050" stroke-width="0.9"/>
<line x1="238.7" x2="240.1" y1="26.89" y2="26.89" stroke="#505050" stroke-width="0.9"/>
<text x="243.7" y="23.9" class="itk">2×10<tspan dx="0.5" dy="-2.7" font-size="5.8">-13</tspan></text>
<text x="243.7" y="166.8" class="itk">2.5×10<tspan dx="0.5" dy="-2.7" font-size="5.8">-14</tspan></text>
<text transform="translate(10.9,92.3) rotate(-90)" text-anchor="middle" class="ttl" style="font-size:8.8px">Potential vs. Li/Li<tspan dx="0.5" dy="-3.3" font-size="6.2">+</tspan><tspan dx="0.3" dy="3.3">  /  V</tspan></text>
<text transform="translate(231.4,92.5) rotate(-90)" text-anchor="middle" class="ttl">Thickness Change<tspan dy="2.2" font-size="5.6">relative</tspan><tspan dy="-2.2">  /  %</tspan></text>
<text transform="translate(269.2,92.4) rotate(-90)" text-anchor="middle" class="ttl" style="font-size:8.8px">Ion Current <tspan fill="#f0dc00" stroke="#f0dc00">(m/z = 85)</tspan>  /  A</text>
<text x="120.3" y="186.1" text-anchor="middle" class="ttl tm">Time  /  h</text>
<rect x="33.2" y="23" width="11.7" height="11.4" fill="#fff" stroke="#e4e4e4" stroke-width="0.6"/>
<text x="39" y="31.3" text-anchor="middle" class="tk">(d)</text>
</g>
<rect x="73.6" y="2.9" width="371.6" height="12.3" fill="#fff" stroke="#959595" stroke-width="0.85"/>
<line x1="74.3" x2="92" y1="8.2" y2="8.2" stroke="#909090" stroke-width="0.5"/>
<text x="95" y="10.9" class="lg">Potential</text>
<line x1="128.6" x2="146" y1="8.2" y2="8.2" stroke="#ff2020" stroke-width="0.5"/>
<text x="149.2" y="10.9" class="lg">Thickness Change<tspan dy="2.2" font-size="5.3">relative</tspan></text>
<line x1="235.0" x2="253.6" y1="8.2" y2="8.2" stroke="#109a88" stroke-width="0.5"/>
<text x="255.6" y="10.9" class="lg">m/z = 2</text>
<line x1="285.6" x2="302.7" y1="8.2" y2="8.2" stroke="#b0209a" stroke-width="0.5"/>
<text x="305.0" y="10.9" class="lg">m/z = 26</text>
<line x1="338.5" x2="356.5" y1="8.2" y2="8.2" stroke="#2a9ae0" stroke-width="0.5"/>
<text x="358.7" y="10.9" class="lg">m/z = 39</text>
<line x1="392.1" x2="410.1" y1="8.2" y2="8.2" stroke="#f0dc00" stroke-width="0.5"/>
<text x="412.7" y="10.9" class="lg">m/z = 85</text>
</svg></body></html>
